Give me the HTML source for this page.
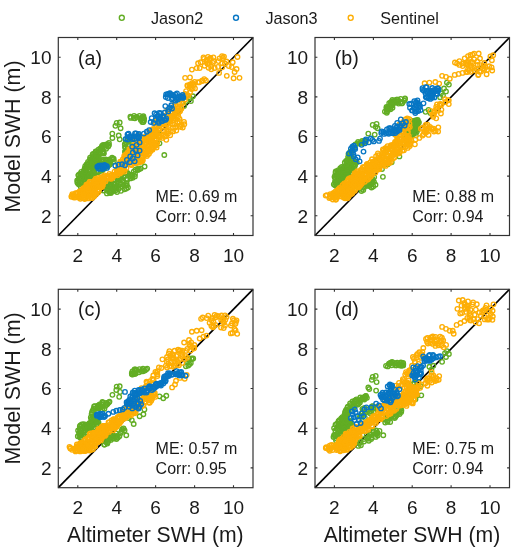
<!DOCTYPE html>
<html><head><meta charset="utf-8"><title>SWH scatter</title>
<style>
html,body{margin:0;padding:0;background:#fff}
svg{display:block}
text{font-family:"Liberation Sans",sans-serif;fill:#1a1a1a}
</style></head><body>
<svg width="515" height="550" viewBox="0 0 515 550">
<rect width="515" height="550" fill="#fff"/>
<g fill="none" stroke-width="1.35">
<circle cx="121.8" cy="17.8" r="2.5" stroke="#62AD24"/>
<circle cx="236.0" cy="17.8" r="2.5" stroke="#0776C4"/>
<circle cx="350.7" cy="17.8" r="2.5" stroke="#FDAE05"/>
</g>
<text x="151.0" y="24.2" font-size="16.2">Jason2</text>
<text x="265.4" y="24.2" font-size="16.2">Jason3</text>
<text x="380.3" y="24.2" font-size="16.2">Sentinel</text>
<g id="panel-a"><line x1="58.3" y1="235.5" x2="253.0" y2="37.5" stroke="#000" stroke-width="1.7"/>
<g fill="none" stroke-width="1.35"><g stroke="#62AD24"><circle cx="86.3" cy="177.1" r="2.25"/><circle cx="102.5" cy="159.9" r="2.25"/><circle cx="103.8" cy="148.5" r="2.25"/><circle cx="98.6" cy="168.3" r="2.25"/><circle cx="77.2" cy="180.3" r="2.25"/><circle cx="82.0" cy="178.9" r="2.25"/><circle cx="113.2" cy="159.1" r="2.25"/><circle cx="95.3" cy="152.3" r="2.25"/><circle cx="101.7" cy="147.4" r="2.25"/><circle cx="88.0" cy="161.8" r="2.25"/><circle cx="95.5" cy="164.7" r="2.25"/><circle cx="97.9" cy="172.3" r="2.25"/><circle cx="81.3" cy="171.8" r="2.25"/><circle cx="102.6" cy="169.9" r="2.25"/><circle cx="100.0" cy="153.9" r="2.25"/><circle cx="98.4" cy="152.0" r="2.25"/><circle cx="90.7" cy="170.4" r="2.25"/><circle cx="103.1" cy="144.8" r="2.25"/><circle cx="93.9" cy="160.3" r="2.25"/><circle cx="93.7" cy="176.5" r="2.25"/><circle cx="106.0" cy="163.2" r="2.25"/><circle cx="93.1" cy="153.8" r="2.25"/><circle cx="97.3" cy="155.8" r="2.25"/><circle cx="92.1" cy="168.6" r="2.25"/><circle cx="110.1" cy="164.3" r="2.25"/><circle cx="102.7" cy="152.4" r="2.25"/><circle cx="90.5" cy="165.2" r="2.25"/><circle cx="84.4" cy="181.6" r="2.25"/><circle cx="95.8" cy="160.8" r="2.25"/><circle cx="100.4" cy="169.2" r="2.25"/><circle cx="92.4" cy="156.1" r="2.25"/><circle cx="107.9" cy="144.1" r="2.25"/><circle cx="104.7" cy="145.3" r="2.25"/><circle cx="102.0" cy="146.0" r="2.25"/><circle cx="102.8" cy="153.4" r="2.25"/><circle cx="109.3" cy="164.7" r="2.25"/><circle cx="87.3" cy="173.4" r="2.25"/><circle cx="106.9" cy="165.8" r="2.25"/><circle cx="95.7" cy="153.9" r="2.25"/><circle cx="90.0" cy="159.5" r="2.25"/><circle cx="83.8" cy="179.7" r="2.25"/><circle cx="109.8" cy="163.2" r="2.25"/><circle cx="107.5" cy="166.6" r="2.25"/><circle cx="78.4" cy="175.3" r="2.25"/><circle cx="84.8" cy="174.4" r="2.25"/><circle cx="103.8" cy="153.4" r="2.25"/><circle cx="96.3" cy="163.2" r="2.25"/><circle cx="113.9" cy="161.1" r="2.25"/><circle cx="88.5" cy="170.0" r="2.25"/><circle cx="91.3" cy="177.2" r="2.25"/><circle cx="87.3" cy="179.8" r="2.25"/><circle cx="96.4" cy="159.4" r="2.25"/><circle cx="94.0" cy="174.8" r="2.25"/><circle cx="104.5" cy="168.6" r="2.25"/><circle cx="109.6" cy="159.5" r="2.25"/><circle cx="79.8" cy="178.0" r="2.25"/><circle cx="79.2" cy="179.5" r="2.25"/><circle cx="106.1" cy="148.7" r="2.25"/><circle cx="80.9" cy="173.9" r="2.25"/><circle cx="94.4" cy="162.0" r="2.25"/><circle cx="108.2" cy="146.5" r="2.25"/><circle cx="96.6" cy="171.3" r="2.25"/><circle cx="107.3" cy="160.4" r="2.25"/><circle cx="99.0" cy="163.5" r="2.25"/><circle cx="112.1" cy="157.7" r="2.25"/><circle cx="94.0" cy="157.7" r="2.25"/><circle cx="90.6" cy="161.9" r="2.25"/><circle cx="94.1" cy="172.2" r="2.25"/><circle cx="88.9" cy="176.5" r="2.25"/><circle cx="77.3" cy="182.5" r="2.25"/><circle cx="92.4" cy="166.1" r="2.25"/><circle cx="79.1" cy="177.9" r="2.25"/><circle cx="93.0" cy="172.9" r="2.25"/><circle cx="97.9" cy="162.8" r="2.25"/><circle cx="106.4" cy="145.0" r="2.25"/><circle cx="97.4" cy="166.7" r="2.25"/><circle cx="101.0" cy="170.7" r="2.25"/><circle cx="86.1" cy="176.8" r="2.25"/><circle cx="82.6" cy="183.1" r="2.25"/><circle cx="100.5" cy="164.0" r="2.25"/><circle cx="87.0" cy="166.5" r="2.25"/><circle cx="107.9" cy="160.5" r="2.25"/><circle cx="113.7" cy="158.7" r="2.25"/><circle cx="85.0" cy="172.6" r="2.25"/><circle cx="102.1" cy="148.5" r="2.25"/><circle cx="90.6" cy="170.5" r="2.25"/><circle cx="102.0" cy="170.2" r="2.25"/><circle cx="103.5" cy="159.9" r="2.25"/><circle cx="95.9" cy="155.4" r="2.25"/><circle cx="97.8" cy="156.7" r="2.25"/><circle cx="78.2" cy="183.8" r="2.25"/><circle cx="84.7" cy="177.0" r="2.25"/><circle cx="80.6" cy="179.1" r="2.25"/><circle cx="88.4" cy="163.8" r="2.25"/><circle cx="84.0" cy="170.4" r="2.25"/><circle cx="98.0" cy="160.5" r="2.25"/><circle cx="88.5" cy="167.7" r="2.25"/><circle cx="103.8" cy="164.3" r="2.25"/><circle cx="82.4" cy="175.3" r="2.25"/><circle cx="109.7" cy="161.7" r="2.25"/><circle cx="107.9" cy="162.1" r="2.25"/><circle cx="90.7" cy="162.6" r="2.25"/><circle cx="80.9" cy="177.2" r="2.25"/><circle cx="112.8" cy="159.0" r="2.25"/><circle cx="103.5" cy="161.8" r="2.25"/><circle cx="91.1" cy="159.7" r="2.25"/><circle cx="92.2" cy="175.4" r="2.25"/><circle cx="101.0" cy="149.9" r="2.25"/><circle cx="93.1" cy="165.4" r="2.25"/><circle cx="97.0" cy="158.5" r="2.25"/><circle cx="84.7" cy="168.3" r="2.25"/><circle cx="98.3" cy="153.8" r="2.25"/><circle cx="81.9" cy="182.1" r="2.25"/><circle cx="88.4" cy="174.9" r="2.25"/><circle cx="85.9" cy="169.2" r="2.25"/><circle cx="84.5" cy="180.2" r="2.25"/><circle cx="93.0" cy="172.7" r="2.25"/><circle cx="84.3" cy="182.0" r="2.25"/><circle cx="99.3" cy="168.2" r="2.25"/><circle cx="101.5" cy="161.0" r="2.25"/><circle cx="101.2" cy="165.4" r="2.25"/><circle cx="106.3" cy="144.4" r="2.25"/><circle cx="108.9" cy="163.2" r="2.25"/><circle cx="86.5" cy="164.3" r="2.25"/><circle cx="98.9" cy="158.5" r="2.25"/><circle cx="77.9" cy="181.0" r="2.25"/><circle cx="107.9" cy="165.7" r="2.25"/><circle cx="88.3" cy="175.4" r="2.25"/><circle cx="90.4" cy="167.3" r="2.25"/><circle cx="101.1" cy="167.3" r="2.25"/><circle cx="92.6" cy="154.6" r="2.25"/><circle cx="94.6" cy="164.8" r="2.25"/><circle cx="94.8" cy="155.5" r="2.25"/><circle cx="79.9" cy="182.7" r="2.25"/><circle cx="98.5" cy="172.1" r="2.25"/><circle cx="78.6" cy="174.8" r="2.25"/><circle cx="90.1" cy="157.6" r="2.25"/><circle cx="103.6" cy="153.0" r="2.25"/><circle cx="84.8" cy="174.4" r="2.25"/><circle cx="93.6" cy="160.5" r="2.25"/><circle cx="105.8" cy="159.5" r="2.25"/><circle cx="94.7" cy="168.6" r="2.25"/><circle cx="94.4" cy="157.0" r="2.25"/><circle cx="100.2" cy="162.8" r="2.25"/><circle cx="87.7" cy="165.1" r="2.25"/><circle cx="84.2" cy="171.9" r="2.25"/><circle cx="79.2" cy="184.6" r="2.25"/><circle cx="96.1" cy="154.1" r="2.25"/><circle cx="80.0" cy="173.8" r="2.25"/><circle cx="101.9" cy="168.6" r="2.25"/><circle cx="82.1" cy="174.1" r="2.25"/><circle cx="87.6" cy="178.6" r="2.25"/><circle cx="97.2" cy="160.3" r="2.25"/><circle cx="102.9" cy="151.6" r="2.25"/><circle cx="94.3" cy="172.0" r="2.25"/><circle cx="100.9" cy="169.1" r="2.25"/><circle cx="93.9" cy="161.2" r="2.25"/><circle cx="106.2" cy="163.6" r="2.25"/><circle cx="98.1" cy="171.0" r="2.25"/><circle cx="80.1" cy="179.4" r="2.25"/><circle cx="98.4" cy="164.1" r="2.25"/><circle cx="93.9" cy="174.7" r="2.25"/><circle cx="95.8" cy="151.6" r="2.25"/><circle cx="89.5" cy="177.1" r="2.25"/><circle cx="96.0" cy="167.7" r="2.25"/><circle cx="80.8" cy="186.9" r="2.25"/><circle cx="103.6" cy="166.5" r="2.25"/><circle cx="93.6" cy="163.1" r="2.25"/><circle cx="100.1" cy="148.7" r="2.25"/><circle cx="101.0" cy="148.5" r="2.25"/><circle cx="81.3" cy="177.4" r="2.25"/><circle cx="104.3" cy="145.3" r="2.25"/><circle cx="101.4" cy="170.1" r="2.25"/><circle cx="105.2" cy="166.8" r="2.25"/><circle cx="90.1" cy="178.6" r="2.25"/><circle cx="90.5" cy="170.1" r="2.25"/><circle cx="98.4" cy="149.6" r="2.25"/><circle cx="92.3" cy="160.2" r="2.25"/><circle cx="89.6" cy="174.9" r="2.25"/><circle cx="94.1" cy="167.9" r="2.25"/><circle cx="104.0" cy="163.3" r="2.25"/><circle cx="86.0" cy="169.4" r="2.25"/><circle cx="85.2" cy="166.1" r="2.25"/><circle cx="88.4" cy="163.6" r="2.25"/><circle cx="84.6" cy="171.2" r="2.25"/><circle cx="102.1" cy="152.8" r="2.25"/><circle cx="107.4" cy="160.2" r="2.25"/><circle cx="101.3" cy="149.1" r="2.25"/><circle cx="95.8" cy="151.5" r="2.25"/><circle cx="95.8" cy="158.8" r="2.25"/><circle cx="109.0" cy="145.1" r="2.25"/><circle cx="107.3" cy="190.7" r="2.25"/><circle cx="127.9" cy="187.4" r="2.25"/><circle cx="133.7" cy="171.6" r="2.25"/><circle cx="120.1" cy="176.8" r="2.25"/><circle cx="113.8" cy="183.7" r="2.25"/><circle cx="135.0" cy="173.9" r="2.25"/><circle cx="126.7" cy="172.9" r="2.25"/><circle cx="107.3" cy="184.4" r="2.25"/><circle cx="116.7" cy="185.9" r="2.25"/><circle cx="110.3" cy="192.7" r="2.25"/><circle cx="111.4" cy="190.3" r="2.25"/><circle cx="137.4" cy="168.9" r="2.25"/><circle cx="117.7" cy="178.8" r="2.25"/><circle cx="122.1" cy="186.6" r="2.25"/><circle cx="137.8" cy="170.1" r="2.25"/><circle cx="113.4" cy="190.8" r="2.25"/><circle cx="120.1" cy="183.9" r="2.25"/><circle cx="120.0" cy="179.0" r="2.25"/><circle cx="131.9" cy="176.0" r="2.25"/><circle cx="140.7" cy="168.5" r="2.25"/><circle cx="122.7" cy="180.8" r="2.25"/><circle cx="126.6" cy="179.0" r="2.25"/><circle cx="130.3" cy="178.4" r="2.25"/><circle cx="113.2" cy="189.3" r="2.25"/><circle cx="108.4" cy="186.9" r="2.25"/><circle cx="103.3" cy="190.5" r="2.25"/><circle cx="139.0" cy="169.2" r="2.25"/><circle cx="108.3" cy="189.1" r="2.25"/><circle cx="117.2" cy="181.7" r="2.25"/><circle cx="109.6" cy="192.6" r="2.25"/><circle cx="106.9" cy="193.4" r="2.25"/><circle cx="109.8" cy="190.8" r="2.25"/><circle cx="124.5" cy="189.3" r="2.25"/><circle cx="111.7" cy="182.4" r="2.25"/><circle cx="110.4" cy="186.4" r="2.25"/><circle cx="132.7" cy="177.7" r="2.25"/><circle cx="134.9" cy="176.4" r="2.25"/><circle cx="106.6" cy="188.6" r="2.25"/><circle cx="135.4" cy="169.7" r="2.25"/><circle cx="121.5" cy="179.1" r="2.25"/><circle cx="115.3" cy="190.7" r="2.25"/><circle cx="110.9" cy="192.9" r="2.25"/><circle cx="116.3" cy="188.5" r="2.25"/><circle cx="118.6" cy="188.9" r="2.25"/><circle cx="105.2" cy="186.2" r="2.25"/><circle cx="132.6" cy="174.9" r="2.25"/><circle cx="130.1" cy="175.9" r="2.25"/><circle cx="118.2" cy="179.6" r="2.25"/><circle cx="109.5" cy="185.8" r="2.25"/><circle cx="110.1" cy="182.0" r="2.25"/><circle cx="122.2" cy="184.1" r="2.25"/><circle cx="115.0" cy="188.5" r="2.25"/><circle cx="126.8" cy="185.3" r="2.25"/><circle cx="123.6" cy="185.3" r="2.25"/><circle cx="121.2" cy="175.5" r="2.25"/><circle cx="111.3" cy="185.0" r="2.25"/><circle cx="123.6" cy="177.2" r="2.25"/><circle cx="131.0" cy="174.6" r="2.25"/><circle cx="115.3" cy="179.9" r="2.25"/><circle cx="144.6" cy="166.5" r="2.25"/><circle cx="127.5" cy="172.8" r="2.25"/><circle cx="127.3" cy="179.7" r="2.25"/><circle cx="118.1" cy="185.8" r="2.25"/><circle cx="126.6" cy="183.2" r="2.25"/><circle cx="117.0" cy="192.1" r="2.25"/><circle cx="115.6" cy="186.9" r="2.25"/><circle cx="111.6" cy="191.8" r="2.25"/><circle cx="109.0" cy="183.0" r="2.25"/><circle cx="125.5" cy="172.9" r="2.25"/><circle cx="121.0" cy="190.8" r="2.25"/><circle cx="115.2" cy="184.0" r="2.25"/><circle cx="125.0" cy="184.8" r="2.25"/><circle cx="125.0" cy="147.2" r="2.25"/><circle cx="125.7" cy="155.9" r="2.25"/><circle cx="125.5" cy="139.6" r="2.25"/><circle cx="130.2" cy="139.2" r="2.25"/><circle cx="129.5" cy="144.5" r="2.25"/><circle cx="128.9" cy="149.7" r="2.25"/><circle cx="128.2" cy="141.9" r="2.25"/><circle cx="127.5" cy="140.5" r="2.25"/><circle cx="128.3" cy="153.6" r="2.25"/><circle cx="125.7" cy="142.6" r="2.25"/><circle cx="125.3" cy="151.1" r="2.25"/><circle cx="126.6" cy="151.6" r="2.25"/><circle cx="128.2" cy="144.9" r="2.25"/><circle cx="125.0" cy="152.0" r="2.25"/><circle cx="127.4" cy="148.3" r="2.25"/><circle cx="126.4" cy="142.2" r="2.25"/><circle cx="128.1" cy="150.8" r="2.25"/><circle cx="125.4" cy="147.1" r="2.25"/><circle cx="124.8" cy="144.2" r="2.25"/><circle cx="112.4" cy="138.0" r="2.25"/><circle cx="119.7" cy="139.3" r="2.25"/><circle cx="108.9" cy="142.8" r="2.25"/><circle cx="126.3" cy="188.5" r="2.25"/><circle cx="143.1" cy="118.0" r="2.25"/><circle cx="140.9" cy="118.5" r="2.25"/><circle cx="143.2" cy="117.4" r="2.25"/><circle cx="142.3" cy="122.0" r="2.25"/><circle cx="130.8" cy="117.9" r="2.25"/><circle cx="140.8" cy="120.1" r="2.25"/><circle cx="134.1" cy="115.8" r="2.25"/><circle cx="136.6" cy="116.9" r="2.25"/><circle cx="133.8" cy="118.0" r="2.25"/><circle cx="143.4" cy="122.1" r="2.25"/><circle cx="141.5" cy="118.4" r="2.25"/><circle cx="134.9" cy="118.3" r="2.25"/><circle cx="140.4" cy="118.4" r="2.25"/><circle cx="144.1" cy="118.6" r="2.25"/><circle cx="144.0" cy="120.4" r="2.25"/><circle cx="143.4" cy="116.2" r="2.25"/><circle cx="130.4" cy="116.7" r="2.25"/><circle cx="141.8" cy="117.6" r="2.25"/><circle cx="139.5" cy="115.9" r="2.25"/><circle cx="116.7" cy="122.9" r="2.25"/><circle cx="119.7" cy="122.5" r="2.25"/><circle cx="115.4" cy="125.8" r="2.25"/><circle cx="120.6" cy="128.2" r="2.25"/><circle cx="112.3" cy="133.6" r="2.25"/><circle cx="118.7" cy="135.5" r="2.25"/><circle cx="164.3" cy="155.0" r="2.25"/><circle cx="159.5" cy="143.3" r="2.25"/><circle cx="186.1" cy="101.1" r="2.25"/><circle cx="190.0" cy="98.2" r="2.25"/><circle cx="192.9" cy="96.2" r="2.25"/><circle cx="184.1" cy="105.9" r="2.25"/><circle cx="190.9" cy="101.1" r="2.25"/><circle cx="176.4" cy="112.7" r="2.25"/><circle cx="158.9" cy="130.2" r="2.25"/><circle cx="156.0" cy="134.1" r="2.25"/><circle cx="173.4" cy="116.6" r="2.25"/></g>
<g stroke="#FDAE05"><circle cx="81.0" cy="196.4" r="2.25"/><circle cx="92.5" cy="194.8" r="2.25"/><circle cx="114.3" cy="174.8" r="2.25"/><circle cx="96.8" cy="181.9" r="2.25"/><circle cx="106.7" cy="178.2" r="2.25"/><circle cx="72.3" cy="194.1" r="2.25"/><circle cx="85.2" cy="187.2" r="2.25"/><circle cx="98.7" cy="189.5" r="2.25"/><circle cx="86.8" cy="186.6" r="2.25"/><circle cx="73.2" cy="195.5" r="2.25"/><circle cx="75.9" cy="197.2" r="2.25"/><circle cx="88.9" cy="189.4" r="2.25"/><circle cx="92.2" cy="198.1" r="2.25"/><circle cx="101.8" cy="186.8" r="2.25"/><circle cx="88.7" cy="184.0" r="2.25"/><circle cx="84.8" cy="194.1" r="2.25"/><circle cx="120.7" cy="171.7" r="2.25"/><circle cx="96.4" cy="185.7" r="2.25"/><circle cx="86.4" cy="184.7" r="2.25"/><circle cx="102.6" cy="182.9" r="2.25"/><circle cx="94.8" cy="195.2" r="2.25"/><circle cx="92.8" cy="186.4" r="2.25"/><circle cx="71.7" cy="196.1" r="2.25"/><circle cx="116.4" cy="173.0" r="2.25"/><circle cx="90.3" cy="186.7" r="2.25"/><circle cx="112.7" cy="177.4" r="2.25"/><circle cx="100.7" cy="187.5" r="2.25"/><circle cx="89.7" cy="181.8" r="2.25"/><circle cx="87.6" cy="191.7" r="2.25"/><circle cx="89.6" cy="194.6" r="2.25"/><circle cx="117.5" cy="175.2" r="2.25"/><circle cx="93.2" cy="190.5" r="2.25"/><circle cx="105.3" cy="181.2" r="2.25"/><circle cx="117.2" cy="171.6" r="2.25"/><circle cx="98.4" cy="186.6" r="2.25"/><circle cx="80.1" cy="193.8" r="2.25"/><circle cx="86.5" cy="191.7" r="2.25"/><circle cx="87.4" cy="198.0" r="2.25"/><circle cx="80.1" cy="197.4" r="2.25"/><circle cx="94.6" cy="180.3" r="2.25"/><circle cx="99.9" cy="179.6" r="2.25"/><circle cx="99.1" cy="185.4" r="2.25"/><circle cx="101.6" cy="181.6" r="2.25"/><circle cx="91.7" cy="197.7" r="2.25"/><circle cx="103.3" cy="179.8" r="2.25"/><circle cx="120.1" cy="173.4" r="2.25"/><circle cx="87.1" cy="196.0" r="2.25"/><circle cx="89.0" cy="187.2" r="2.25"/><circle cx="78.0" cy="192.9" r="2.25"/><circle cx="92.7" cy="183.6" r="2.25"/><circle cx="109.4" cy="173.8" r="2.25"/><circle cx="101.2" cy="177.2" r="2.25"/><circle cx="96.7" cy="179.7" r="2.25"/><circle cx="72.8" cy="195.2" r="2.25"/><circle cx="80.3" cy="198.7" r="2.25"/><circle cx="106.9" cy="177.1" r="2.25"/><circle cx="99.1" cy="180.9" r="2.25"/><circle cx="87.2" cy="189.6" r="2.25"/><circle cx="95.2" cy="186.7" r="2.25"/><circle cx="118.7" cy="169.9" r="2.25"/><circle cx="84.7" cy="199.0" r="2.25"/><circle cx="90.7" cy="191.4" r="2.25"/><circle cx="95.3" cy="182.6" r="2.25"/><circle cx="111.2" cy="178.4" r="2.25"/><circle cx="83.1" cy="188.7" r="2.25"/><circle cx="82.3" cy="190.5" r="2.25"/><circle cx="104.5" cy="176.9" r="2.25"/><circle cx="79.9" cy="194.7" r="2.25"/><circle cx="78.1" cy="196.1" r="2.25"/><circle cx="107.9" cy="175.9" r="2.25"/><circle cx="75.6" cy="193.2" r="2.25"/><circle cx="79.5" cy="191.6" r="2.25"/><circle cx="111.1" cy="175.1" r="2.25"/><circle cx="85.0" cy="191.7" r="2.25"/><circle cx="81.8" cy="197.3" r="2.25"/><circle cx="85.0" cy="195.8" r="2.25"/><circle cx="83.4" cy="188.2" r="2.25"/><circle cx="91.0" cy="193.4" r="2.25"/><circle cx="100.5" cy="184.0" r="2.25"/><circle cx="108.5" cy="176.9" r="2.25"/><circle cx="96.1" cy="181.1" r="2.25"/><circle cx="94.4" cy="195.4" r="2.25"/><circle cx="113.8" cy="175.6" r="2.25"/><circle cx="98.5" cy="191.9" r="2.25"/><circle cx="95.7" cy="178.6" r="2.25"/><circle cx="114.5" cy="171.6" r="2.25"/><circle cx="92.3" cy="187.5" r="2.25"/><circle cx="85.0" cy="190.2" r="2.25"/><circle cx="117.4" cy="171.3" r="2.25"/><circle cx="112.3" cy="177.4" r="2.25"/><circle cx="86.2" cy="189.2" r="2.25"/><circle cx="94.9" cy="184.6" r="2.25"/><circle cx="102.8" cy="185.7" r="2.25"/><circle cx="89.8" cy="182.0" r="2.25"/><circle cx="97.7" cy="189.7" r="2.25"/><circle cx="74.0" cy="197.5" r="2.25"/><circle cx="100.4" cy="180.2" r="2.25"/><circle cx="97.8" cy="181.4" r="2.25"/><circle cx="76.8" cy="193.5" r="2.25"/><circle cx="94.3" cy="182.3" r="2.25"/><circle cx="71.4" cy="196.7" r="2.25"/><circle cx="88.2" cy="192.8" r="2.25"/><circle cx="108.0" cy="178.4" r="2.25"/><circle cx="99.9" cy="179.6" r="2.25"/><circle cx="98.5" cy="181.8" r="2.25"/><circle cx="85.7" cy="197.7" r="2.25"/><circle cx="89.3" cy="189.2" r="2.25"/><circle cx="73.9" cy="196.0" r="2.25"/><circle cx="103.3" cy="182.1" r="2.25"/><circle cx="80.5" cy="193.1" r="2.25"/><circle cx="88.6" cy="198.4" r="2.25"/><circle cx="75.1" cy="197.3" r="2.25"/><circle cx="84.0" cy="198.0" r="2.25"/><circle cx="90.2" cy="190.3" r="2.25"/><circle cx="120.8" cy="172.6" r="2.25"/><circle cx="118.7" cy="172.3" r="2.25"/><circle cx="95.0" cy="188.3" r="2.25"/><circle cx="93.4" cy="186.4" r="2.25"/><circle cx="92.4" cy="185.2" r="2.25"/><circle cx="98.8" cy="183.9" r="2.25"/><circle cx="99.2" cy="182.5" r="2.25"/><circle cx="98.3" cy="178.0" r="2.25"/><circle cx="112.8" cy="176.7" r="2.25"/><circle cx="101.3" cy="177.8" r="2.25"/><circle cx="90.7" cy="195.3" r="2.25"/><circle cx="97.0" cy="186.3" r="2.25"/><circle cx="117.4" cy="169.2" r="2.25"/><circle cx="82.5" cy="189.9" r="2.25"/><circle cx="105.5" cy="181.3" r="2.25"/><circle cx="89.9" cy="184.5" r="2.25"/><circle cx="90.8" cy="193.7" r="2.25"/><circle cx="87.7" cy="184.2" r="2.25"/><circle cx="115.0" cy="174.8" r="2.25"/><circle cx="98.7" cy="190.3" r="2.25"/><circle cx="93.9" cy="196.6" r="2.25"/><circle cx="89.4" cy="196.6" r="2.25"/><circle cx="121.5" cy="171.9" r="2.25"/><circle cx="97.2" cy="180.5" r="2.25"/><circle cx="104.5" cy="175.4" r="2.25"/><circle cx="78.4" cy="195.9" r="2.25"/><circle cx="111.1" cy="178.8" r="2.25"/><circle cx="101.8" cy="187.1" r="2.25"/><circle cx="82.1" cy="196.7" r="2.25"/><circle cx="89.2" cy="186.0" r="2.25"/><circle cx="91.7" cy="182.1" r="2.25"/><circle cx="86.0" cy="193.1" r="2.25"/><circle cx="91.5" cy="190.4" r="2.25"/><circle cx="100.9" cy="184.4" r="2.25"/><circle cx="89.5" cy="187.5" r="2.25"/><circle cx="106.9" cy="177.6" r="2.25"/><circle cx="116.6" cy="174.0" r="2.25"/><circle cx="91.2" cy="186.7" r="2.25"/><circle cx="96.6" cy="193.8" r="2.25"/><circle cx="82.3" cy="191.3" r="2.25"/><circle cx="95.2" cy="193.2" r="2.25"/><circle cx="78.3" cy="197.5" r="2.25"/><circle cx="112.2" cy="174.6" r="2.25"/><circle cx="87.2" cy="187.0" r="2.25"/><circle cx="100.1" cy="187.3" r="2.25"/><circle cx="77.5" cy="193.3" r="2.25"/><circle cx="88.3" cy="189.5" r="2.25"/><circle cx="96.3" cy="183.7" r="2.25"/><circle cx="83.2" cy="194.4" r="2.25"/><circle cx="79.7" cy="191.3" r="2.25"/><circle cx="86.8" cy="188.0" r="2.25"/><circle cx="95.8" cy="187.1" r="2.25"/><circle cx="94.1" cy="182.5" r="2.25"/><circle cx="103.4" cy="182.9" r="2.25"/><circle cx="94.6" cy="191.4" r="2.25"/><circle cx="103.5" cy="177.0" r="2.25"/><circle cx="156.4" cy="138.9" r="2.25"/><circle cx="127.0" cy="153.9" r="2.25"/><circle cx="146.9" cy="156.0" r="2.25"/><circle cx="139.7" cy="138.1" r="2.25"/><circle cx="135.2" cy="158.3" r="2.25"/><circle cx="151.4" cy="137.6" r="2.25"/><circle cx="119.1" cy="170.2" r="2.25"/><circle cx="140.2" cy="142.3" r="2.25"/><circle cx="149.3" cy="149.2" r="2.25"/><circle cx="158.1" cy="135.4" r="2.25"/><circle cx="124.3" cy="166.8" r="2.25"/><circle cx="128.3" cy="163.5" r="2.25"/><circle cx="147.1" cy="138.5" r="2.25"/><circle cx="133.6" cy="161.8" r="2.25"/><circle cx="147.1" cy="136.2" r="2.25"/><circle cx="152.5" cy="144.8" r="2.25"/><circle cx="134.0" cy="145.1" r="2.25"/><circle cx="148.1" cy="142.7" r="2.25"/><circle cx="142.1" cy="141.6" r="2.25"/><circle cx="144.6" cy="140.1" r="2.25"/><circle cx="151.4" cy="149.4" r="2.25"/><circle cx="143.3" cy="146.4" r="2.25"/><circle cx="140.3" cy="148.2" r="2.25"/><circle cx="150.6" cy="138.7" r="2.25"/><circle cx="150.9" cy="141.0" r="2.25"/><circle cx="131.5" cy="164.8" r="2.25"/><circle cx="136.9" cy="142.1" r="2.25"/><circle cx="137.8" cy="153.4" r="2.25"/><circle cx="154.9" cy="142.5" r="2.25"/><circle cx="137.8" cy="158.0" r="2.25"/><circle cx="139.5" cy="135.7" r="2.25"/><circle cx="136.1" cy="163.0" r="2.25"/><circle cx="155.2" cy="145.1" r="2.25"/><circle cx="133.0" cy="157.4" r="2.25"/><circle cx="130.4" cy="158.3" r="2.25"/><circle cx="136.9" cy="156.7" r="2.25"/><circle cx="147.8" cy="154.4" r="2.25"/><circle cx="129.7" cy="150.9" r="2.25"/><circle cx="122.8" cy="161.5" r="2.25"/><circle cx="131.1" cy="152.1" r="2.25"/><circle cx="120.4" cy="163.2" r="2.25"/><circle cx="155.5" cy="136.0" r="2.25"/><circle cx="145.5" cy="154.3" r="2.25"/><circle cx="128.3" cy="160.4" r="2.25"/><circle cx="145.2" cy="150.0" r="2.25"/><circle cx="147.6" cy="140.9" r="2.25"/><circle cx="122.1" cy="170.2" r="2.25"/><circle cx="135.5" cy="139.4" r="2.25"/><circle cx="148.7" cy="137.3" r="2.25"/><circle cx="127.7" cy="159.0" r="2.25"/><circle cx="127.8" cy="156.9" r="2.25"/><circle cx="135.9" cy="148.8" r="2.25"/><circle cx="133.5" cy="151.3" r="2.25"/><circle cx="143.1" cy="156.4" r="2.25"/><circle cx="118.0" cy="169.9" r="2.25"/><circle cx="156.7" cy="144.7" r="2.25"/><circle cx="118.6" cy="166.3" r="2.25"/><circle cx="124.8" cy="157.4" r="2.25"/><circle cx="133.9" cy="163.3" r="2.25"/><circle cx="143.8" cy="153.9" r="2.25"/><circle cx="137.9" cy="146.3" r="2.25"/><circle cx="144.7" cy="143.3" r="2.25"/><circle cx="133.0" cy="147.7" r="2.25"/><circle cx="120.2" cy="161.6" r="2.25"/><circle cx="133.3" cy="153.3" r="2.25"/><circle cx="139.1" cy="149.9" r="2.25"/><circle cx="136.4" cy="157.7" r="2.25"/><circle cx="144.7" cy="147.6" r="2.25"/><circle cx="117.1" cy="169.5" r="2.25"/><circle cx="140.8" cy="141.2" r="2.25"/><circle cx="141.2" cy="157.3" r="2.25"/><circle cx="134.3" cy="160.9" r="2.25"/><circle cx="154.7" cy="139.2" r="2.25"/><circle cx="152.8" cy="147.0" r="2.25"/><circle cx="140.4" cy="160.8" r="2.25"/><circle cx="124.3" cy="169.7" r="2.25"/><circle cx="151.9" cy="143.3" r="2.25"/><circle cx="132.9" cy="160.0" r="2.25"/><circle cx="142.6" cy="152.3" r="2.25"/><circle cx="134.3" cy="154.0" r="2.25"/><circle cx="124.5" cy="171.6" r="2.25"/><circle cx="137.4" cy="162.3" r="2.25"/><circle cx="150.3" cy="151.4" r="2.25"/><circle cx="125.0" cy="159.6" r="2.25"/><circle cx="143.6" cy="149.5" r="2.25"/><circle cx="148.5" cy="150.4" r="2.25"/><circle cx="136.9" cy="136.6" r="2.25"/><circle cx="146.8" cy="139.6" r="2.25"/><circle cx="121.4" cy="167.3" r="2.25"/><circle cx="140.2" cy="142.3" r="2.25"/><circle cx="136.1" cy="142.3" r="2.25"/><circle cx="127.4" cy="152.6" r="2.25"/><circle cx="122.6" cy="167.4" r="2.25"/><circle cx="149.8" cy="140.8" r="2.25"/><circle cx="119.2" cy="164.3" r="2.25"/><circle cx="151.6" cy="135.4" r="2.25"/><circle cx="130.8" cy="154.6" r="2.25"/><circle cx="152.5" cy="149.7" r="2.25"/><circle cx="130.6" cy="164.3" r="2.25"/><circle cx="138.5" cy="142.4" r="2.25"/><circle cx="142.5" cy="160.5" r="2.25"/><circle cx="156.6" cy="147.5" r="2.25"/><circle cx="142.9" cy="141.7" r="2.25"/><circle cx="140.6" cy="152.3" r="2.25"/><circle cx="120.5" cy="162.8" r="2.25"/><circle cx="130.9" cy="148.6" r="2.25"/><circle cx="157.4" cy="142.3" r="2.25"/><circle cx="132.7" cy="146.1" r="2.25"/><circle cx="147.9" cy="146.6" r="2.25"/><circle cx="143.5" cy="138.1" r="2.25"/><circle cx="138.0" cy="162.7" r="2.25"/><circle cx="141.5" cy="161.5" r="2.25"/><circle cx="141.6" cy="145.4" r="2.25"/><circle cx="155.1" cy="146.1" r="2.25"/><circle cx="149.1" cy="139.2" r="2.25"/><circle cx="130.7" cy="151.2" r="2.25"/><circle cx="134.8" cy="143.9" r="2.25"/><circle cx="136.3" cy="146.0" r="2.25"/><circle cx="134.3" cy="158.3" r="2.25"/><circle cx="122.9" cy="159.1" r="2.25"/><circle cx="129.4" cy="158.4" r="2.25"/><circle cx="120.6" cy="169.4" r="2.25"/><circle cx="125.4" cy="154.6" r="2.25"/><circle cx="134.3" cy="145.6" r="2.25"/><circle cx="143.9" cy="138.2" r="2.25"/><circle cx="140.1" cy="162.1" r="2.25"/><circle cx="142.7" cy="159.3" r="2.25"/><circle cx="150.5" cy="140.0" r="2.25"/><circle cx="132.0" cy="151.2" r="2.25"/><circle cx="146.2" cy="152.7" r="2.25"/><circle cx="152.4" cy="137.7" r="2.25"/><circle cx="143.0" cy="145.5" r="2.25"/><circle cx="124.2" cy="156.0" r="2.25"/><circle cx="123.6" cy="165.3" r="2.25"/><circle cx="145.4" cy="154.7" r="2.25"/><circle cx="149.3" cy="148.3" r="2.25"/><circle cx="137.2" cy="151.0" r="2.25"/><circle cx="133.1" cy="162.7" r="2.25"/><circle cx="135.7" cy="152.6" r="2.25"/><circle cx="125.2" cy="162.6" r="2.25"/><circle cx="129.4" cy="149.2" r="2.25"/><circle cx="159.8" cy="137.5" r="2.25"/><circle cx="136.5" cy="139.8" r="2.25"/><circle cx="134.5" cy="161.9" r="2.25"/><circle cx="152.9" cy="142.5" r="2.25"/><circle cx="152.2" cy="139.3" r="2.25"/><circle cx="141.4" cy="148.0" r="2.25"/><circle cx="137.0" cy="136.5" r="2.25"/><circle cx="136.6" cy="152.4" r="2.25"/><circle cx="149.8" cy="137.8" r="2.25"/><circle cx="128.1" cy="154.2" r="2.25"/><circle cx="138.7" cy="145.3" r="2.25"/><circle cx="141.1" cy="139.9" r="2.25"/><circle cx="151.5" cy="147.1" r="2.25"/><circle cx="121.9" cy="171.3" r="2.25"/><circle cx="135.0" cy="148.3" r="2.25"/><circle cx="130.9" cy="160.0" r="2.25"/><circle cx="124.0" cy="168.3" r="2.25"/><circle cx="139.0" cy="158.2" r="2.25"/><circle cx="128.7" cy="156.8" r="2.25"/><circle cx="156.0" cy="136.1" r="2.25"/><circle cx="122.9" cy="160.8" r="2.25"/><circle cx="126.5" cy="168.1" r="2.25"/><circle cx="151.7" cy="141.1" r="2.25"/><circle cx="146.0" cy="143.8" r="2.25"/><circle cx="117.6" cy="168.6" r="2.25"/><circle cx="156.4" cy="143.6" r="2.25"/><circle cx="122.4" cy="168.9" r="2.25"/><circle cx="138.4" cy="148.3" r="2.25"/><circle cx="149.0" cy="153.8" r="2.25"/><circle cx="141.4" cy="152.7" r="2.25"/><circle cx="142.5" cy="160.7" r="2.25"/><circle cx="131.6" cy="165.1" r="2.25"/><circle cx="141.5" cy="151.1" r="2.25"/><circle cx="136.0" cy="138.3" r="2.25"/><circle cx="139.2" cy="160.9" r="2.25"/><circle cx="118.4" cy="165.4" r="2.25"/><circle cx="139.3" cy="135.8" r="2.25"/><circle cx="129.5" cy="160.9" r="2.25"/><circle cx="148.9" cy="136.0" r="2.25"/><circle cx="155.1" cy="145.8" r="2.25"/><circle cx="153.4" cy="145.1" r="2.25"/><circle cx="145.5" cy="138.9" r="2.25"/><circle cx="153.3" cy="128.8" r="2.25"/><circle cx="152.5" cy="135.4" r="2.25"/><circle cx="149.8" cy="132.0" r="2.25"/><circle cx="153.1" cy="132.9" r="2.25"/><circle cx="149.8" cy="135.6" r="2.25"/><circle cx="154.9" cy="131.3" r="2.25"/><circle cx="145.4" cy="136.3" r="2.25"/><circle cx="151.4" cy="131.7" r="2.25"/><circle cx="151.8" cy="129.9" r="2.25"/><circle cx="151.2" cy="135.9" r="2.25"/><circle cx="153.5" cy="135.6" r="2.25"/><circle cx="162.4" cy="137.9" r="2.25"/><circle cx="166.3" cy="139.8" r="2.25"/><circle cx="166.6" cy="124.6" r="2.25"/><circle cx="175.4" cy="104.9" r="2.25"/><circle cx="172.9" cy="127.4" r="2.25"/><circle cx="189.5" cy="86.1" r="2.25"/><circle cx="166.3" cy="115.4" r="2.25"/><circle cx="163.3" cy="130.4" r="2.25"/><circle cx="167.4" cy="110.2" r="2.25"/><circle cx="188.3" cy="95.4" r="2.25"/><circle cx="174.7" cy="114.2" r="2.25"/><circle cx="173.6" cy="119.8" r="2.25"/><circle cx="184.0" cy="121.8" r="2.25"/><circle cx="190.0" cy="92.5" r="2.25"/><circle cx="170.9" cy="112.9" r="2.25"/><circle cx="179.8" cy="125.8" r="2.25"/><circle cx="183.2" cy="97.7" r="2.25"/><circle cx="157.0" cy="120.2" r="2.25"/><circle cx="179.6" cy="121.9" r="2.25"/><circle cx="161.7" cy="124.0" r="2.25"/><circle cx="170.0" cy="121.7" r="2.25"/><circle cx="178.1" cy="108.0" r="2.25"/><circle cx="169.3" cy="117.6" r="2.25"/><circle cx="180.0" cy="111.2" r="2.25"/><circle cx="159.4" cy="135.5" r="2.25"/><circle cx="181.2" cy="103.3" r="2.25"/><circle cx="167.3" cy="120.3" r="2.25"/><circle cx="183.1" cy="102.9" r="2.25"/><circle cx="170.4" cy="119.7" r="2.25"/><circle cx="166.2" cy="130.9" r="2.25"/><circle cx="182.8" cy="127.6" r="2.25"/><circle cx="184.3" cy="124.2" r="2.25"/><circle cx="186.1" cy="91.1" r="2.25"/><circle cx="154.6" cy="134.1" r="2.25"/><circle cx="168.3" cy="114.6" r="2.25"/><circle cx="155.4" cy="122.7" r="2.25"/><circle cx="178.3" cy="116.5" r="2.25"/><circle cx="178.3" cy="98.9" r="2.25"/><circle cx="164.0" cy="123.8" r="2.25"/><circle cx="175.0" cy="102.3" r="2.25"/><circle cx="175.2" cy="127.5" r="2.25"/><circle cx="167.0" cy="117.4" r="2.25"/><circle cx="155.9" cy="124.8" r="2.25"/><circle cx="179.6" cy="118.9" r="2.25"/><circle cx="175.7" cy="119.1" r="2.25"/><circle cx="158.6" cy="129.0" r="2.25"/><circle cx="159.7" cy="133.2" r="2.25"/><circle cx="175.8" cy="116.8" r="2.25"/><circle cx="168.1" cy="133.4" r="2.25"/><circle cx="175.0" cy="111.8" r="2.25"/><circle cx="176.0" cy="108.4" r="2.25"/><circle cx="155.1" cy="131.0" r="2.25"/><circle cx="176.3" cy="130.5" r="2.25"/><circle cx="159.7" cy="117.8" r="2.25"/><circle cx="158.3" cy="124.6" r="2.25"/><circle cx="186.8" cy="96.6" r="2.25"/><circle cx="168.2" cy="126.0" r="2.25"/><circle cx="163.1" cy="135.2" r="2.25"/><circle cx="177.0" cy="110.7" r="2.25"/><circle cx="163.5" cy="117.5" r="2.25"/><circle cx="173.1" cy="131.4" r="2.25"/><circle cx="159.5" cy="126.6" r="2.25"/><circle cx="159.7" cy="136.3" r="2.25"/><circle cx="195.0" cy="88.4" r="2.25"/><circle cx="181.6" cy="97.7" r="2.25"/><circle cx="185.9" cy="95.7" r="2.25"/><circle cx="171.9" cy="116.5" r="2.25"/><circle cx="157.0" cy="131.7" r="2.25"/><circle cx="191.6" cy="89.0" r="2.25"/><circle cx="185.1" cy="99.4" r="2.25"/><circle cx="163.8" cy="130.9" r="2.25"/><circle cx="165.8" cy="136.2" r="2.25"/><circle cx="180.7" cy="127.0" r="2.25"/><circle cx="178.4" cy="113.1" r="2.25"/><circle cx="168.4" cy="131.6" r="2.25"/><circle cx="160.6" cy="124.7" r="2.25"/><circle cx="174.1" cy="118.0" r="2.25"/><circle cx="154.1" cy="129.6" r="2.25"/><circle cx="181.5" cy="108.4" r="2.25"/><circle cx="170.9" cy="111.9" r="2.25"/><circle cx="191.8" cy="84.1" r="2.25"/><circle cx="173.2" cy="115.2" r="2.25"/><circle cx="172.1" cy="124.4" r="2.25"/><circle cx="177.5" cy="122.5" r="2.25"/><circle cx="165.9" cy="127.1" r="2.25"/><circle cx="180.4" cy="110.1" r="2.25"/><circle cx="190.5" cy="87.1" r="2.25"/><circle cx="168.7" cy="110.6" r="2.25"/><circle cx="170.2" cy="118.1" r="2.25"/><circle cx="174.3" cy="124.4" r="2.25"/><circle cx="167.1" cy="123.3" r="2.25"/><circle cx="193.3" cy="84.9" r="2.25"/><circle cx="192.8" cy="88.2" r="2.25"/><circle cx="178.0" cy="108.8" r="2.25"/><circle cx="155.9" cy="129.4" r="2.25"/><circle cx="173.7" cy="106.8" r="2.25"/><circle cx="181.5" cy="124.7" r="2.25"/><circle cx="169.4" cy="117.6" r="2.25"/><circle cx="168.7" cy="119.7" r="2.25"/><circle cx="179.1" cy="102.6" r="2.25"/><circle cx="164.6" cy="136.5" r="2.25"/><circle cx="170.2" cy="135.2" r="2.25"/><circle cx="170.8" cy="131.2" r="2.25"/><circle cx="156.5" cy="120.8" r="2.25"/><circle cx="185.1" cy="94.0" r="2.25"/><circle cx="187.3" cy="85.4" r="2.25"/><circle cx="187.8" cy="85.7" r="2.25"/><circle cx="190.1" cy="84.3" r="2.25"/><circle cx="192.4" cy="82.9" r="2.25"/><circle cx="193.9" cy="84.4" r="2.25"/><circle cx="194.7" cy="81.9" r="2.25"/><circle cx="198.0" cy="82.2" r="2.25"/><circle cx="199.3" cy="82.3" r="2.25"/><circle cx="202.0" cy="80.6" r="2.25"/><circle cx="202.4" cy="81.1" r="2.25"/><circle cx="204.2" cy="79.1" r="2.25"/><circle cx="205.9" cy="80.5" r="2.25"/><circle cx="185.1" cy="77.8" r="2.25"/><circle cx="190.0" cy="77.4" r="2.25"/><circle cx="191.9" cy="69.6" r="2.25"/><circle cx="196.7" cy="68.1" r="2.25"/><circle cx="199.7" cy="68.1" r="2.25"/><circle cx="198.1" cy="63.2" r="2.25"/><circle cx="203.5" cy="57.4" r="2.25"/><circle cx="200.6" cy="62.2" r="2.25"/><circle cx="222.1" cy="63.2" r="2.25"/><circle cx="208.0" cy="56.8" r="2.25"/><circle cx="212.9" cy="62.9" r="2.25"/><circle cx="213.4" cy="57.3" r="2.25"/><circle cx="218.5" cy="61.1" r="2.25"/><circle cx="207.4" cy="63.7" r="2.25"/><circle cx="203.8" cy="58.9" r="2.25"/><circle cx="222.9" cy="58.0" r="2.25"/><circle cx="209.3" cy="58.8" r="2.25"/><circle cx="222.2" cy="67.3" r="2.25"/><circle cx="210.6" cy="57.8" r="2.25"/><circle cx="211.1" cy="66.4" r="2.25"/><circle cx="224.9" cy="63.5" r="2.25"/><circle cx="222.0" cy="56.1" r="2.25"/><circle cx="204.6" cy="65.7" r="2.25"/><circle cx="224.0" cy="56.6" r="2.25"/><circle cx="208.6" cy="67.8" r="2.25"/><circle cx="218.0" cy="66.9" r="2.25"/><circle cx="211.3" cy="69.2" r="2.25"/><circle cx="209.4" cy="63.1" r="2.25"/><circle cx="219.5" cy="58.3" r="2.25"/><circle cx="209.6" cy="59.9" r="2.25"/><circle cx="214.7" cy="68.0" r="2.25"/><circle cx="206.7" cy="60.0" r="2.25"/><circle cx="226.5" cy="61.5" r="2.25"/><circle cx="206.3" cy="61.7" r="2.25"/><circle cx="213.7" cy="61.1" r="2.25"/><circle cx="237.5" cy="57.0" r="2.25"/><circle cx="232.7" cy="62.2" r="2.25"/><circle cx="228.8" cy="66.1" r="2.25"/><circle cx="234.6" cy="72.0" r="2.25"/><circle cx="226.8" cy="75.8" r="2.25"/><circle cx="233.6" cy="78.2" r="2.25"/><circle cx="239.5" cy="77.8" r="2.25"/><circle cx="219.1" cy="72.9" r="2.25"/><circle cx="231.7" cy="67.1" r="2.25"/><circle cx="236.6" cy="69.0" r="2.25"/></g>
<g stroke="#0776C4"><circle cx="102.6" cy="169.0" r="2.25"/><circle cx="101.3" cy="165.4" r="2.25"/><circle cx="100.2" cy="168.6" r="2.25"/><circle cx="97.3" cy="166.7" r="2.25"/><circle cx="106.9" cy="167.9" r="2.25"/><circle cx="98.3" cy="166.6" r="2.25"/><circle cx="104.5" cy="165.0" r="2.25"/><circle cx="106.9" cy="166.1" r="2.25"/><circle cx="105.5" cy="165.9" r="2.25"/><circle cx="98.6" cy="168.8" r="2.25"/><circle cx="98.9" cy="165.7" r="2.25"/><circle cx="102.1" cy="166.7" r="2.25"/><circle cx="99.9" cy="165.7" r="2.25"/><circle cx="102.0" cy="167.4" r="2.25"/><circle cx="103.0" cy="166.1" r="2.25"/><circle cx="103.7" cy="167.7" r="2.25"/><circle cx="115.3" cy="165.7" r="2.25"/><circle cx="118.6" cy="164.6" r="2.25"/><circle cx="122.1" cy="164.2" r="2.25"/><circle cx="125.0" cy="165.2" r="2.25"/><circle cx="126.9" cy="159.9" r="2.25"/><circle cx="130.2" cy="156.4" r="2.25"/><circle cx="132.8" cy="158.4" r="2.25"/><circle cx="134.7" cy="161.3" r="2.25"/><circle cx="129.8" cy="162.2" r="2.25"/><circle cx="132.2" cy="146.7" r="2.25"/><circle cx="135.7" cy="150.2" r="2.25"/><circle cx="139.6" cy="150.6" r="2.25"/><circle cx="136.6" cy="144.8" r="2.25"/><circle cx="139.6" cy="142.4" r="2.25"/><circle cx="132.8" cy="152.5" r="2.25"/><circle cx="137.6" cy="155.4" r="2.25"/><circle cx="131.1" cy="137.5" r="2.25"/><circle cx="127.5" cy="139.5" r="2.25"/><circle cx="138.8" cy="137.4" r="2.25"/><circle cx="132.4" cy="139.1" r="2.25"/><circle cx="125.7" cy="138.8" r="2.25"/><circle cx="138.5" cy="137.9" r="2.25"/><circle cx="129.6" cy="137.1" r="2.25"/><circle cx="134.3" cy="139.1" r="2.25"/><circle cx="138.5" cy="134.9" r="2.25"/><circle cx="139.0" cy="133.9" r="2.25"/><circle cx="136.0" cy="133.5" r="2.25"/><circle cx="138.0" cy="136.6" r="2.25"/><circle cx="128.5" cy="133.6" r="2.25"/><circle cx="138.9" cy="136.8" r="2.25"/><circle cx="127.5" cy="134.5" r="2.25"/><circle cx="134.1" cy="136.2" r="2.25"/><circle cx="131.4" cy="136.4" r="2.25"/><circle cx="135.0" cy="133.3" r="2.25"/><circle cx="128.7" cy="136.8" r="2.25"/><circle cx="136.7" cy="136.6" r="2.25"/><circle cx="143.9" cy="133.6" r="2.25"/><circle cx="146.8" cy="131.7" r="2.25"/><circle cx="149.2" cy="130.1" r="2.25"/><circle cx="151.7" cy="118.1" r="2.25"/><circle cx="154.6" cy="113.2" r="2.25"/><circle cx="153.6" cy="122.9" r="2.25"/><circle cx="157.5" cy="116.1" r="2.25"/><circle cx="160.4" cy="118.1" r="2.25"/><circle cx="158.9" cy="122.9" r="2.25"/><circle cx="162.4" cy="121.0" r="2.25"/><circle cx="155.6" cy="120.0" r="2.25"/><circle cx="150.7" cy="122.0" r="2.25"/><circle cx="163.3" cy="116.1" r="2.25"/><circle cx="172.0" cy="99.4" r="2.25"/><circle cx="182.5" cy="95.0" r="2.25"/><circle cx="176.8" cy="99.7" r="2.25"/><circle cx="172.7" cy="95.0" r="2.25"/><circle cx="178.6" cy="97.1" r="2.25"/><circle cx="177.0" cy="93.3" r="2.25"/><circle cx="165.8" cy="97.0" r="2.25"/><circle cx="167.6" cy="94.2" r="2.25"/><circle cx="175.3" cy="100.7" r="2.25"/><circle cx="176.9" cy="97.5" r="2.25"/><circle cx="166.1" cy="94.4" r="2.25"/><circle cx="182.6" cy="97.9" r="2.25"/><circle cx="170.0" cy="93.2" r="2.25"/><circle cx="167.9" cy="98.0" r="2.25"/><circle cx="174.0" cy="96.1" r="2.25"/><circle cx="175.5" cy="94.5" r="2.25"/><circle cx="170.7" cy="95.3" r="2.25"/><circle cx="182.1" cy="96.6" r="2.25"/><circle cx="172.8" cy="98.2" r="2.25"/><circle cx="180.7" cy="96.4" r="2.25"/><circle cx="178.1" cy="99.3" r="2.25"/><circle cx="183.3" cy="97.4" r="2.25"/><circle cx="169.0" cy="93.7" r="2.25"/><circle cx="164.8" cy="112.5" r="2.25"/><circle cx="171.3" cy="105.2" r="2.25"/><circle cx="156.1" cy="114.6" r="2.25"/><circle cx="166.2" cy="118.4" r="2.25"/><circle cx="158.7" cy="121.7" r="2.25"/><circle cx="172.0" cy="108.5" r="2.25"/><circle cx="158.6" cy="115.9" r="2.25"/><circle cx="165.3" cy="106.1" r="2.25"/><circle cx="163.3" cy="117.4" r="2.25"/><circle cx="160.0" cy="117.5" r="2.25"/><circle cx="161.6" cy="121.1" r="2.25"/><circle cx="169.0" cy="108.9" r="2.25"/><circle cx="159.2" cy="113.0" r="2.25"/><circle cx="158.9" cy="119.8" r="2.25"/><circle cx="170.2" cy="107.3" r="2.25"/><circle cx="160.8" cy="113.2" r="2.25"/><circle cx="164.5" cy="119.8" r="2.25"/><circle cx="168.2" cy="111.4" r="2.25"/><circle cx="165.7" cy="119.8" r="2.25"/></g></g>
<rect x="58.3" y="37.5" width="194.7" height="198.0" fill="none" stroke="#333333" stroke-width="1.2"/>
<path d="M77.8 235.5v-2.4M77.8 37.5v2.4M58.3 215.7h2.4M253.0 215.7h-2.4M116.7 235.5v-2.4M116.7 37.5v2.4M58.3 176.1h2.4M253.0 176.1h-2.4M155.6 235.5v-2.4M155.6 37.5v2.4M58.3 136.5h2.4M253.0 136.5h-2.4M194.6 235.5v-2.4M194.6 37.5v2.4M58.3 96.9h2.4M253.0 96.9h-2.4M233.5 235.5v-2.4M233.5 37.5v2.4M58.3 57.3h2.4M253.0 57.3h-2.4" stroke="#333333" stroke-width="1.1" fill="none"/>
<text x="77.8" y="262.2" text-anchor="middle" font-size="19">2</text>
<text x="51.5" y="222.6" text-anchor="end" font-size="19">2</text>
<text x="116.7" y="262.2" text-anchor="middle" font-size="19">4</text>
<text x="51.5" y="183.0" text-anchor="end" font-size="19">4</text>
<text x="155.6" y="262.2" text-anchor="middle" font-size="19">6</text>
<text x="51.5" y="143.4" text-anchor="end" font-size="19">6</text>
<text x="194.6" y="262.2" text-anchor="middle" font-size="19">8</text>
<text x="51.5" y="103.8" text-anchor="end" font-size="19">8</text>
<text x="233.5" y="262.2" text-anchor="middle" font-size="19">10</text>
<text x="51.5" y="64.2" text-anchor="end" font-size="19">10</text>
<text x="78.0" y="64.5" font-size="19.7">(a)</text>
<text x="155.6" y="202.4" font-size="16">ME: 0.69 m</text>
<text x="155.6" y="222.3" font-size="16">Corr: 0.94</text></g>
<g id="panel-b"><line x1="315.0" y1="235.5" x2="509.5" y2="37.5" stroke="#000" stroke-width="1.7"/>
<g fill="none" stroke-width="1.35"><g stroke="#62AD24"><circle cx="340.5" cy="177.5" r="2.25"/><circle cx="347.0" cy="174.7" r="2.25"/><circle cx="357.4" cy="143.3" r="2.25"/><circle cx="346.1" cy="160.8" r="2.25"/><circle cx="339.5" cy="172.5" r="2.25"/><circle cx="334.5" cy="176.8" r="2.25"/><circle cx="360.8" cy="142.6" r="2.25"/><circle cx="337.6" cy="186.1" r="2.25"/><circle cx="350.9" cy="167.3" r="2.25"/><circle cx="352.9" cy="159.6" r="2.25"/><circle cx="353.8" cy="162.5" r="2.25"/><circle cx="347.6" cy="173.6" r="2.25"/><circle cx="349.7" cy="153.0" r="2.25"/><circle cx="345.2" cy="168.1" r="2.25"/><circle cx="340.4" cy="169.8" r="2.25"/><circle cx="346.9" cy="166.9" r="2.25"/><circle cx="348.9" cy="158.2" r="2.25"/><circle cx="346.0" cy="167.8" r="2.25"/><circle cx="343.1" cy="172.5" r="2.25"/><circle cx="337.5" cy="180.8" r="2.25"/><circle cx="344.0" cy="166.9" r="2.25"/><circle cx="364.7" cy="140.7" r="2.25"/><circle cx="351.9" cy="167.5" r="2.25"/><circle cx="343.1" cy="168.1" r="2.25"/><circle cx="349.9" cy="169.2" r="2.25"/><circle cx="355.4" cy="144.4" r="2.25"/><circle cx="351.0" cy="156.1" r="2.25"/><circle cx="347.9" cy="169.5" r="2.25"/><circle cx="342.3" cy="178.1" r="2.25"/><circle cx="333.8" cy="184.3" r="2.25"/><circle cx="335.7" cy="183.6" r="2.25"/><circle cx="338.0" cy="172.6" r="2.25"/><circle cx="356.8" cy="162.2" r="2.25"/><circle cx="337.7" cy="184.4" r="2.25"/><circle cx="353.1" cy="165.4" r="2.25"/><circle cx="362.6" cy="143.3" r="2.25"/><circle cx="349.8" cy="164.4" r="2.25"/><circle cx="351.7" cy="170.3" r="2.25"/><circle cx="342.6" cy="173.7" r="2.25"/><circle cx="345.6" cy="170.2" r="2.25"/><circle cx="348.5" cy="153.9" r="2.25"/><circle cx="336.3" cy="175.4" r="2.25"/><circle cx="341.5" cy="175.9" r="2.25"/><circle cx="348.9" cy="164.7" r="2.25"/><circle cx="335.0" cy="185.2" r="2.25"/><circle cx="351.3" cy="172.9" r="2.25"/><circle cx="346.8" cy="169.8" r="2.25"/><circle cx="347.3" cy="160.5" r="2.25"/><circle cx="352.4" cy="168.8" r="2.25"/><circle cx="358.1" cy="141.9" r="2.25"/><circle cx="343.5" cy="178.5" r="2.25"/><circle cx="339.3" cy="184.6" r="2.25"/><circle cx="340.3" cy="168.2" r="2.25"/><circle cx="339.4" cy="181.5" r="2.25"/><circle cx="335.8" cy="182.0" r="2.25"/><circle cx="348.0" cy="171.2" r="2.25"/><circle cx="362.2" cy="140.9" r="2.25"/><circle cx="343.8" cy="176.6" r="2.25"/><circle cx="348.2" cy="174.2" r="2.25"/><circle cx="341.0" cy="179.1" r="2.25"/><circle cx="335.6" cy="172.7" r="2.25"/><circle cx="346.5" cy="172.2" r="2.25"/><circle cx="341.8" cy="166.8" r="2.25"/><circle cx="339.4" cy="178.9" r="2.25"/><circle cx="344.4" cy="169.4" r="2.25"/><circle cx="365.8" cy="141.9" r="2.25"/><circle cx="348.1" cy="157.1" r="2.25"/><circle cx="359.9" cy="142.9" r="2.25"/><circle cx="335.7" cy="171.4" r="2.25"/><circle cx="344.8" cy="162.5" r="2.25"/><circle cx="352.4" cy="158.4" r="2.25"/><circle cx="350.3" cy="162.3" r="2.25"/><circle cx="337.2" cy="175.8" r="2.25"/><circle cx="350.4" cy="165.9" r="2.25"/><circle cx="347.0" cy="162.2" r="2.25"/><circle cx="343.7" cy="175.4" r="2.25"/><circle cx="350.3" cy="151.7" r="2.25"/><circle cx="363.3" cy="141.9" r="2.25"/><circle cx="341.9" cy="171.8" r="2.25"/><circle cx="354.3" cy="166.8" r="2.25"/><circle cx="341.7" cy="180.0" r="2.25"/><circle cx="362.6" cy="142.2" r="2.25"/><circle cx="354.0" cy="162.5" r="2.25"/><circle cx="337.4" cy="177.9" r="2.25"/><circle cx="354.7" cy="166.0" r="2.25"/><circle cx="349.4" cy="170.9" r="2.25"/><circle cx="349.9" cy="160.6" r="2.25"/><circle cx="337.1" cy="186.9" r="2.25"/><circle cx="352.0" cy="162.2" r="2.25"/><circle cx="335.2" cy="178.1" r="2.25"/><circle cx="340.7" cy="183.2" r="2.25"/><circle cx="348.7" cy="169.1" r="2.25"/><circle cx="345.6" cy="166.7" r="2.25"/><circle cx="338.5" cy="171.7" r="2.25"/><circle cx="337.9" cy="170.3" r="2.25"/><circle cx="340.6" cy="170.6" r="2.25"/><circle cx="359.9" cy="143.8" r="2.25"/><circle cx="349.5" cy="158.9" r="2.25"/><circle cx="350.7" cy="155.9" r="2.25"/><circle cx="343.8" cy="171.4" r="2.25"/><circle cx="342.4" cy="177.9" r="2.25"/><circle cx="347.7" cy="172.6" r="2.25"/><circle cx="349.7" cy="155.1" r="2.25"/><circle cx="338.6" cy="174.7" r="2.25"/><circle cx="346.5" cy="164.5" r="2.25"/><circle cx="353.3" cy="147.3" r="2.25"/><circle cx="352.1" cy="172.3" r="2.25"/><circle cx="341.0" cy="180.6" r="2.25"/><circle cx="336.6" cy="185.3" r="2.25"/><circle cx="355.2" cy="164.5" r="2.25"/><circle cx="337.7" cy="186.3" r="2.25"/><circle cx="343.1" cy="175.2" r="2.25"/><circle cx="343.9" cy="173.6" r="2.25"/><circle cx="335.2" cy="175.4" r="2.25"/><circle cx="347.0" cy="175.6" r="2.25"/><circle cx="335.0" cy="181.3" r="2.25"/><circle cx="352.4" cy="167.8" r="2.25"/><circle cx="339.5" cy="178.0" r="2.25"/><circle cx="337.5" cy="171.7" r="2.25"/><circle cx="374.0" cy="182.0" r="2.25"/><circle cx="361.5" cy="191.0" r="2.25"/><circle cx="374.2" cy="177.1" r="2.25"/><circle cx="371.9" cy="180.9" r="2.25"/><circle cx="371.7" cy="178.7" r="2.25"/><circle cx="371.0" cy="184.7" r="2.25"/><circle cx="367.2" cy="181.8" r="2.25"/><circle cx="367.0" cy="185.7" r="2.25"/><circle cx="364.1" cy="187.2" r="2.25"/><circle cx="372.9" cy="179.4" r="2.25"/><circle cx="363.3" cy="190.1" r="2.25"/><circle cx="369.3" cy="186.0" r="2.25"/><circle cx="369.1" cy="183.8" r="2.25"/><circle cx="367.4" cy="183.8" r="2.25"/><circle cx="366.6" cy="184.8" r="2.25"/><circle cx="362.0" cy="188.9" r="2.25"/><circle cx="367.0" cy="183.1" r="2.25"/><circle cx="371.5" cy="187.5" r="2.25"/><circle cx="375.5" cy="184.7" r="2.25"/><circle cx="365.3" cy="183.9" r="2.25"/><circle cx="382.9" cy="176.8" r="2.25"/><circle cx="387.8" cy="164.2" r="2.25"/><circle cx="391.7" cy="162.2" r="2.25"/><circle cx="399.4" cy="156.4" r="2.25"/><circle cx="382.0" cy="169.0" r="2.25"/><circle cx="372.3" cy="181.7" r="2.25"/><circle cx="373.2" cy="186.5" r="2.25"/><circle cx="387.0" cy="111.4" r="2.25"/><circle cx="390.5" cy="109.2" r="2.25"/><circle cx="400.8" cy="102.0" r="2.25"/><circle cx="394.9" cy="101.9" r="2.25"/><circle cx="389.3" cy="106.3" r="2.25"/><circle cx="386.5" cy="107.0" r="2.25"/><circle cx="402.3" cy="103.1" r="2.25"/><circle cx="398.6" cy="103.6" r="2.25"/><circle cx="398.0" cy="99.6" r="2.25"/><circle cx="390.8" cy="104.6" r="2.25"/><circle cx="387.0" cy="109.9" r="2.25"/><circle cx="387.4" cy="108.7" r="2.25"/><circle cx="392.4" cy="99.9" r="2.25"/><circle cx="392.5" cy="107.7" r="2.25"/><circle cx="391.8" cy="102.2" r="2.25"/><circle cx="391.9" cy="103.9" r="2.25"/><circle cx="390.6" cy="102.4" r="2.25"/><circle cx="396.5" cy="101.5" r="2.25"/><circle cx="405.0" cy="98.4" r="2.25"/><circle cx="394.1" cy="103.0" r="2.25"/><circle cx="392.3" cy="105.5" r="2.25"/><circle cx="386.5" cy="108.2" r="2.25"/><circle cx="393.8" cy="100.8" r="2.25"/><circle cx="391.9" cy="105.1" r="2.25"/><circle cx="400.7" cy="98.8" r="2.25"/><circle cx="397.5" cy="102.2" r="2.25"/><circle cx="384.9" cy="111.6" r="2.25"/><circle cx="397.0" cy="99.6" r="2.25"/><circle cx="388.9" cy="107.5" r="2.25"/><circle cx="405.0" cy="99.1" r="2.25"/><circle cx="404.3" cy="100.7" r="2.25"/><circle cx="389.2" cy="103.1" r="2.25"/><circle cx="391.8" cy="101.3" r="2.25"/><circle cx="388.7" cy="109.5" r="2.25"/><circle cx="386.8" cy="112.7" r="2.25"/><circle cx="388.6" cy="106.9" r="2.25"/><circle cx="396.4" cy="99.7" r="2.25"/><circle cx="401.7" cy="103.4" r="2.25"/><circle cx="372.7" cy="124.9" r="2.25"/><circle cx="376.6" cy="123.9" r="2.25"/><circle cx="377.6" cy="128.2" r="2.25"/><circle cx="368.3" cy="133.6" r="2.25"/><circle cx="374.7" cy="134.6" r="2.25"/><circle cx="375.7" cy="126.8" r="2.25"/><circle cx="412.6" cy="126.4" r="2.25"/><circle cx="408.7" cy="131.6" r="2.25"/><circle cx="414.7" cy="129.3" r="2.25"/><circle cx="414.9" cy="123.1" r="2.25"/><circle cx="406.6" cy="125.9" r="2.25"/><circle cx="411.3" cy="129.6" r="2.25"/><circle cx="416.7" cy="126.3" r="2.25"/><circle cx="406.4" cy="135.3" r="2.25"/><circle cx="413.3" cy="133.6" r="2.25"/><circle cx="416.9" cy="131.6" r="2.25"/><circle cx="409.4" cy="124.5" r="2.25"/><circle cx="411.6" cy="123.5" r="2.25"/><circle cx="409.6" cy="134.0" r="2.25"/><circle cx="409.3" cy="123.7" r="2.25"/><circle cx="408.2" cy="127.6" r="2.25"/><circle cx="410.4" cy="136.6" r="2.25"/><circle cx="414.0" cy="127.9" r="2.25"/><circle cx="408.8" cy="136.1" r="2.25"/><circle cx="406.4" cy="130.1" r="2.25"/><circle cx="413.5" cy="131.0" r="2.25"/><circle cx="406.4" cy="133.1" r="2.25"/><circle cx="417.3" cy="125.2" r="2.25"/><circle cx="405.9" cy="124.6" r="2.25"/><circle cx="409.1" cy="127.0" r="2.25"/><circle cx="416.0" cy="122.3" r="2.25"/><circle cx="415.2" cy="133.1" r="2.25"/><circle cx="416.2" cy="124.5" r="2.25"/><circle cx="417.6" cy="129.4" r="2.25"/><circle cx="411.6" cy="128.7" r="2.25"/><circle cx="408.2" cy="128.2" r="2.25"/><circle cx="410.7" cy="127.9" r="2.25"/><circle cx="405.6" cy="123.4" r="2.25"/><circle cx="408.3" cy="130.4" r="2.25"/><circle cx="411.6" cy="134.9" r="2.25"/><circle cx="407.8" cy="124.0" r="2.25"/><circle cx="415.9" cy="135.4" r="2.25"/><circle cx="446.9" cy="82.6" r="2.25"/><circle cx="448.9" cy="84.6" r="2.25"/><circle cx="444.0" cy="88.5" r="2.25"/><circle cx="446.0" cy="91.4" r="2.25"/><circle cx="441.1" cy="93.3" r="2.25"/><circle cx="440.1" cy="97.2" r="2.25"/><circle cx="443.0" cy="95.3" r="2.25"/><circle cx="416.4" cy="120.1" r="2.25"/><circle cx="412.1" cy="128.7" r="2.25"/><circle cx="414.7" cy="120.6" r="2.25"/><circle cx="412.3" cy="120.9" r="2.25"/><circle cx="413.1" cy="134.3" r="2.25"/><circle cx="417.4" cy="126.3" r="2.25"/><circle cx="415.6" cy="130.9" r="2.25"/><circle cx="417.8" cy="127.8" r="2.25"/><circle cx="414.8" cy="128.1" r="2.25"/><circle cx="413.1" cy="127.2" r="2.25"/><circle cx="412.9" cy="123.6" r="2.25"/><circle cx="413.0" cy="132.9" r="2.25"/><circle cx="416.5" cy="124.4" r="2.25"/><circle cx="415.3" cy="121.5" r="2.25"/><circle cx="414.2" cy="122.8" r="2.25"/><circle cx="411.8" cy="122.2" r="2.25"/><circle cx="418.9" cy="122.6" r="2.25"/><circle cx="418.4" cy="121.7" r="2.25"/><circle cx="417.7" cy="120.0" r="2.25"/><circle cx="417.4" cy="122.9" r="2.25"/><circle cx="417.4" cy="128.0" r="2.25"/><circle cx="425.6" cy="111.8" r="2.25"/><circle cx="428.5" cy="109.8" r="2.25"/><circle cx="430.4" cy="113.1" r="2.25"/></g>
<g stroke="#FDAE05"><circle cx="347.0" cy="181.8" r="2.25"/><circle cx="333.1" cy="194.5" r="2.25"/><circle cx="343.7" cy="194.4" r="2.25"/><circle cx="374.6" cy="165.9" r="2.25"/><circle cx="361.3" cy="173.9" r="2.25"/><circle cx="351.8" cy="178.8" r="2.25"/><circle cx="345.7" cy="188.6" r="2.25"/><circle cx="369.7" cy="172.9" r="2.25"/><circle cx="362.3" cy="170.1" r="2.25"/><circle cx="358.9" cy="172.8" r="2.25"/><circle cx="351.3" cy="194.1" r="2.25"/><circle cx="354.9" cy="190.7" r="2.25"/><circle cx="367.5" cy="179.7" r="2.25"/><circle cx="359.0" cy="178.9" r="2.25"/><circle cx="350.1" cy="178.1" r="2.25"/><circle cx="376.2" cy="169.8" r="2.25"/><circle cx="326.9" cy="195.1" r="2.25"/><circle cx="354.6" cy="173.2" r="2.25"/><circle cx="357.8" cy="174.8" r="2.25"/><circle cx="370.9" cy="165.4" r="2.25"/><circle cx="361.4" cy="181.0" r="2.25"/><circle cx="378.2" cy="168.1" r="2.25"/><circle cx="355.5" cy="182.3" r="2.25"/><circle cx="374.8" cy="160.8" r="2.25"/><circle cx="331.2" cy="197.4" r="2.25"/><circle cx="356.6" cy="181.6" r="2.25"/><circle cx="366.9" cy="167.4" r="2.25"/><circle cx="366.5" cy="178.6" r="2.25"/><circle cx="375.4" cy="172.6" r="2.25"/><circle cx="347.2" cy="198.3" r="2.25"/><circle cx="361.9" cy="183.6" r="2.25"/><circle cx="338.1" cy="190.9" r="2.25"/><circle cx="362.0" cy="179.1" r="2.25"/><circle cx="358.7" cy="187.2" r="2.25"/><circle cx="342.5" cy="185.2" r="2.25"/><circle cx="342.9" cy="195.2" r="2.25"/><circle cx="370.2" cy="176.8" r="2.25"/><circle cx="362.9" cy="167.2" r="2.25"/><circle cx="372.5" cy="163.9" r="2.25"/><circle cx="347.9" cy="195.5" r="2.25"/><circle cx="352.6" cy="185.3" r="2.25"/><circle cx="355.0" cy="189.3" r="2.25"/><circle cx="376.4" cy="167.9" r="2.25"/><circle cx="343.6" cy="197.4" r="2.25"/><circle cx="347.7" cy="180.7" r="2.25"/><circle cx="349.1" cy="183.7" r="2.25"/><circle cx="341.4" cy="191.8" r="2.25"/><circle cx="344.3" cy="186.7" r="2.25"/><circle cx="372.9" cy="173.3" r="2.25"/><circle cx="370.8" cy="171.2" r="2.25"/><circle cx="375.1" cy="168.0" r="2.25"/><circle cx="347.6" cy="194.0" r="2.25"/><circle cx="363.6" cy="178.0" r="2.25"/><circle cx="348.2" cy="190.6" r="2.25"/><circle cx="358.8" cy="184.6" r="2.25"/><circle cx="377.3" cy="166.7" r="2.25"/><circle cx="356.6" cy="176.2" r="2.25"/><circle cx="354.1" cy="185.7" r="2.25"/><circle cx="335.7" cy="197.8" r="2.25"/><circle cx="347.0" cy="189.4" r="2.25"/><circle cx="356.1" cy="186.7" r="2.25"/><circle cx="354.4" cy="179.7" r="2.25"/><circle cx="367.8" cy="169.1" r="2.25"/><circle cx="348.6" cy="196.7" r="2.25"/><circle cx="331.3" cy="195.1" r="2.25"/><circle cx="336.0" cy="194.1" r="2.25"/><circle cx="339.3" cy="196.5" r="2.25"/><circle cx="352.5" cy="192.2" r="2.25"/><circle cx="351.0" cy="181.2" r="2.25"/><circle cx="335.5" cy="191.3" r="2.25"/><circle cx="374.9" cy="167.0" r="2.25"/><circle cx="355.2" cy="183.5" r="2.25"/><circle cx="346.7" cy="186.9" r="2.25"/><circle cx="338.1" cy="189.6" r="2.25"/><circle cx="345.6" cy="192.3" r="2.25"/><circle cx="365.1" cy="179.0" r="2.25"/><circle cx="369.6" cy="172.3" r="2.25"/><circle cx="345.7" cy="197.1" r="2.25"/><circle cx="329.3" cy="198.0" r="2.25"/><circle cx="333.3" cy="193.5" r="2.25"/><circle cx="367.6" cy="164.7" r="2.25"/><circle cx="373.1" cy="161.7" r="2.25"/><circle cx="353.2" cy="176.3" r="2.25"/><circle cx="369.6" cy="170.9" r="2.25"/><circle cx="368.6" cy="167.8" r="2.25"/><circle cx="357.2" cy="171.2" r="2.25"/><circle cx="359.1" cy="173.6" r="2.25"/><circle cx="361.0" cy="176.8" r="2.25"/><circle cx="345.6" cy="195.5" r="2.25"/><circle cx="353.5" cy="186.1" r="2.25"/><circle cx="376.7" cy="169.6" r="2.25"/><circle cx="350.5" cy="189.3" r="2.25"/><circle cx="349.6" cy="193.0" r="2.25"/><circle cx="364.8" cy="181.7" r="2.25"/><circle cx="368.7" cy="165.5" r="2.25"/><circle cx="358.2" cy="187.2" r="2.25"/><circle cx="371.7" cy="167.5" r="2.25"/><circle cx="370.6" cy="162.1" r="2.25"/><circle cx="360.1" cy="183.8" r="2.25"/><circle cx="333.1" cy="197.4" r="2.25"/><circle cx="342.7" cy="185.1" r="2.25"/><circle cx="364.2" cy="171.0" r="2.25"/><circle cx="344.2" cy="183.4" r="2.25"/><circle cx="325.7" cy="195.6" r="2.25"/><circle cx="357.7" cy="179.4" r="2.25"/><circle cx="372.2" cy="165.6" r="2.25"/><circle cx="352.1" cy="189.6" r="2.25"/><circle cx="349.3" cy="184.9" r="2.25"/><circle cx="355.6" cy="173.8" r="2.25"/><circle cx="339.6" cy="188.0" r="2.25"/><circle cx="335.7" cy="199.6" r="2.25"/><circle cx="341.0" cy="193.3" r="2.25"/><circle cx="354.9" cy="182.2" r="2.25"/><circle cx="352.1" cy="179.3" r="2.25"/><circle cx="362.0" cy="174.9" r="2.25"/><circle cx="357.5" cy="174.2" r="2.25"/><circle cx="345.9" cy="185.6" r="2.25"/><circle cx="352.3" cy="193.2" r="2.25"/><circle cx="352.8" cy="187.8" r="2.25"/><circle cx="352.5" cy="188.8" r="2.25"/><circle cx="352.8" cy="180.6" r="2.25"/><circle cx="357.6" cy="182.8" r="2.25"/><circle cx="348.0" cy="184.7" r="2.25"/><circle cx="366.3" cy="174.0" r="2.25"/><circle cx="332.8" cy="199.5" r="2.25"/><circle cx="335.3" cy="196.6" r="2.25"/><circle cx="357.1" cy="185.2" r="2.25"/><circle cx="347.8" cy="188.9" r="2.25"/><circle cx="352.5" cy="191.1" r="2.25"/><circle cx="330.2" cy="197.1" r="2.25"/><circle cx="351.9" cy="186.1" r="2.25"/><circle cx="354.9" cy="180.1" r="2.25"/><circle cx="361.1" cy="169.6" r="2.25"/><circle cx="346.1" cy="183.2" r="2.25"/><circle cx="334.6" cy="197.5" r="2.25"/><circle cx="354.6" cy="182.9" r="2.25"/><circle cx="363.4" cy="167.4" r="2.25"/><circle cx="365.3" cy="177.3" r="2.25"/><circle cx="343.7" cy="191.2" r="2.25"/><circle cx="351.2" cy="191.7" r="2.25"/><circle cx="378.5" cy="168.0" r="2.25"/><circle cx="372.3" cy="169.6" r="2.25"/><circle cx="355.0" cy="177.8" r="2.25"/><circle cx="346.3" cy="189.9" r="2.25"/><circle cx="336.2" cy="194.5" r="2.25"/><circle cx="347.3" cy="187.5" r="2.25"/><circle cx="361.2" cy="179.6" r="2.25"/><circle cx="333.6" cy="192.9" r="2.25"/><circle cx="355.9" cy="174.2" r="2.25"/><circle cx="359.4" cy="173.5" r="2.25"/><circle cx="360.8" cy="170.6" r="2.25"/><circle cx="363.0" cy="180.8" r="2.25"/><circle cx="348.5" cy="179.0" r="2.25"/><circle cx="371.0" cy="174.6" r="2.25"/><circle cx="363.3" cy="169.9" r="2.25"/><circle cx="343.9" cy="187.0" r="2.25"/><circle cx="338.9" cy="194.4" r="2.25"/><circle cx="376.5" cy="169.9" r="2.25"/><circle cx="358.9" cy="177.9" r="2.25"/><circle cx="368.4" cy="178.9" r="2.25"/><circle cx="374.3" cy="167.4" r="2.25"/><circle cx="347.6" cy="197.9" r="2.25"/><circle cx="347.8" cy="195.7" r="2.25"/><circle cx="360.9" cy="185.1" r="2.25"/><circle cx="344.8" cy="187.7" r="2.25"/><circle cx="354.0" cy="177.3" r="2.25"/><circle cx="359.9" cy="173.9" r="2.25"/><circle cx="370.1" cy="162.6" r="2.25"/><circle cx="370.1" cy="167.3" r="2.25"/><circle cx="372.0" cy="159.2" r="2.25"/><circle cx="368.0" cy="172.7" r="2.25"/><circle cx="363.5" cy="177.6" r="2.25"/><circle cx="356.2" cy="172.8" r="2.25"/><circle cx="352.4" cy="183.8" r="2.25"/><circle cx="369.7" cy="169.3" r="2.25"/><circle cx="350.1" cy="186.4" r="2.25"/><circle cx="330.3" cy="194.1" r="2.25"/><circle cx="372.3" cy="165.2" r="2.25"/><circle cx="345.1" cy="198.3" r="2.25"/><circle cx="336.8" cy="192.9" r="2.25"/><circle cx="357.4" cy="180.4" r="2.25"/><circle cx="350.9" cy="182.1" r="2.25"/><circle cx="364.1" cy="174.0" r="2.25"/><circle cx="358.4" cy="182.9" r="2.25"/><circle cx="352.2" cy="192.6" r="2.25"/><circle cx="369.5" cy="167.3" r="2.25"/><circle cx="345.3" cy="184.6" r="2.25"/><circle cx="333.4" cy="194.9" r="2.25"/><circle cx="344.4" cy="192.6" r="2.25"/><circle cx="336.0" cy="199.5" r="2.25"/><circle cx="350.4" cy="178.2" r="2.25"/><circle cx="365.2" cy="175.6" r="2.25"/><circle cx="357.4" cy="177.3" r="2.25"/><circle cx="364.2" cy="179.3" r="2.25"/><circle cx="359.4" cy="186.3" r="2.25"/><circle cx="355.1" cy="188.6" r="2.25"/><circle cx="362.7" cy="179.5" r="2.25"/><circle cx="367.3" cy="163.8" r="2.25"/><circle cx="346.4" cy="196.3" r="2.25"/><circle cx="376.6" cy="165.8" r="2.25"/><circle cx="364.5" cy="167.2" r="2.25"/><circle cx="353.7" cy="181.5" r="2.25"/><circle cx="361.9" cy="174.8" r="2.25"/><circle cx="366.4" cy="166.1" r="2.25"/><circle cx="342.7" cy="188.8" r="2.25"/><circle cx="374.0" cy="162.8" r="2.25"/><circle cx="348.2" cy="185.1" r="2.25"/><circle cx="357.7" cy="186.2" r="2.25"/><circle cx="353.5" cy="184.1" r="2.25"/><circle cx="343.5" cy="195.2" r="2.25"/><circle cx="347.3" cy="193.2" r="2.25"/><circle cx="366.8" cy="164.5" r="2.25"/><circle cx="341.4" cy="191.1" r="2.25"/><circle cx="337.3" cy="195.5" r="2.25"/><circle cx="343.1" cy="193.3" r="2.25"/><circle cx="370.7" cy="176.6" r="2.25"/><circle cx="337.6" cy="190.5" r="2.25"/><circle cx="368.1" cy="164.7" r="2.25"/><circle cx="353.0" cy="180.2" r="2.25"/><circle cx="341.2" cy="196.2" r="2.25"/><circle cx="338.6" cy="189.2" r="2.25"/><circle cx="334.2" cy="196.6" r="2.25"/><circle cx="377.9" cy="166.1" r="2.25"/><circle cx="355.3" cy="182.7" r="2.25"/><circle cx="343.9" cy="196.6" r="2.25"/><circle cx="342.5" cy="190.7" r="2.25"/><circle cx="360.2" cy="184.3" r="2.25"/><circle cx="347.7" cy="181.2" r="2.25"/><circle cx="368.7" cy="168.1" r="2.25"/><circle cx="372.1" cy="174.8" r="2.25"/><circle cx="383.0" cy="157.5" r="2.25"/><circle cx="403.2" cy="147.3" r="2.25"/><circle cx="410.1" cy="144.2" r="2.25"/><circle cx="393.9" cy="144.9" r="2.25"/><circle cx="382.3" cy="163.2" r="2.25"/><circle cx="393.1" cy="150.4" r="2.25"/><circle cx="399.9" cy="151.4" r="2.25"/><circle cx="392.8" cy="152.6" r="2.25"/><circle cx="387.6" cy="154.9" r="2.25"/><circle cx="385.6" cy="165.9" r="2.25"/><circle cx="379.4" cy="169.3" r="2.25"/><circle cx="396.8" cy="147.8" r="2.25"/><circle cx="385.5" cy="148.3" r="2.25"/><circle cx="409.0" cy="140.2" r="2.25"/><circle cx="397.4" cy="152.6" r="2.25"/><circle cx="384.2" cy="154.0" r="2.25"/><circle cx="397.8" cy="140.3" r="2.25"/><circle cx="388.3" cy="161.1" r="2.25"/><circle cx="394.0" cy="154.1" r="2.25"/><circle cx="407.6" cy="137.8" r="2.25"/><circle cx="399.4" cy="145.7" r="2.25"/><circle cx="404.5" cy="144.1" r="2.25"/><circle cx="376.4" cy="160.8" r="2.25"/><circle cx="377.9" cy="153.3" r="2.25"/><circle cx="395.2" cy="152.0" r="2.25"/><circle cx="389.0" cy="158.4" r="2.25"/><circle cx="378.2" cy="157.9" r="2.25"/><circle cx="401.7" cy="138.9" r="2.25"/><circle cx="398.2" cy="143.2" r="2.25"/><circle cx="394.9" cy="152.5" r="2.25"/><circle cx="405.0" cy="141.0" r="2.25"/><circle cx="382.3" cy="154.9" r="2.25"/><circle cx="396.5" cy="143.0" r="2.25"/><circle cx="386.2" cy="160.5" r="2.25"/><circle cx="386.7" cy="163.0" r="2.25"/><circle cx="377.5" cy="163.3" r="2.25"/><circle cx="407.5" cy="144.7" r="2.25"/><circle cx="391.1" cy="145.1" r="2.25"/><circle cx="383.4" cy="155.9" r="2.25"/><circle cx="389.6" cy="153.2" r="2.25"/><circle cx="403.9" cy="150.2" r="2.25"/><circle cx="383.7" cy="150.2" r="2.25"/><circle cx="394.4" cy="157.6" r="2.25"/><circle cx="376.1" cy="156.1" r="2.25"/><circle cx="385.2" cy="151.7" r="2.25"/><circle cx="388.1" cy="148.5" r="2.25"/><circle cx="391.8" cy="148.4" r="2.25"/><circle cx="391.1" cy="156.3" r="2.25"/><circle cx="389.1" cy="163.2" r="2.25"/><circle cx="384.8" cy="159.6" r="2.25"/><circle cx="379.0" cy="160.1" r="2.25"/><circle cx="391.1" cy="158.2" r="2.25"/><circle cx="378.6" cy="161.7" r="2.25"/><circle cx="380.0" cy="163.2" r="2.25"/><circle cx="383.9" cy="165.3" r="2.25"/><circle cx="386.9" cy="149.7" r="2.25"/><circle cx="399.4" cy="153.3" r="2.25"/><circle cx="395.0" cy="142.0" r="2.25"/><circle cx="395.6" cy="153.8" r="2.25"/><circle cx="407.1" cy="141.8" r="2.25"/><circle cx="377.5" cy="159.3" r="2.25"/><circle cx="399.4" cy="138.1" r="2.25"/><circle cx="400.0" cy="143.0" r="2.25"/><circle cx="393.0" cy="146.5" r="2.25"/><circle cx="380.5" cy="158.4" r="2.25"/><circle cx="409.8" cy="146.1" r="2.25"/><circle cx="392.9" cy="158.5" r="2.25"/><circle cx="408.9" cy="144.2" r="2.25"/><circle cx="382.9" cy="149.4" r="2.25"/><circle cx="405.7" cy="146.7" r="2.25"/><circle cx="403.8" cy="142.3" r="2.25"/><circle cx="405.6" cy="137.5" r="2.25"/><circle cx="396.5" cy="141.5" r="2.25"/><circle cx="385.7" cy="162.3" r="2.25"/><circle cx="390.1" cy="158.0" r="2.25"/><circle cx="398.0" cy="142.0" r="2.25"/><circle cx="405.6" cy="140.7" r="2.25"/><circle cx="386.7" cy="154.2" r="2.25"/><circle cx="410.9" cy="139.8" r="2.25"/><circle cx="405.0" cy="143.2" r="2.25"/><circle cx="389.6" cy="159.8" r="2.25"/><circle cx="401.4" cy="147.5" r="2.25"/><circle cx="407.7" cy="147.9" r="2.25"/><circle cx="390.7" cy="149.0" r="2.25"/><circle cx="393.0" cy="153.3" r="2.25"/><circle cx="403.5" cy="139.9" r="2.25"/><circle cx="378.3" cy="155.2" r="2.25"/><circle cx="409.1" cy="139.8" r="2.25"/><circle cx="379.6" cy="167.5" r="2.25"/><circle cx="382.1" cy="156.2" r="2.25"/><circle cx="396.1" cy="150.8" r="2.25"/><circle cx="403.6" cy="146.9" r="2.25"/><circle cx="385.4" cy="148.1" r="2.25"/><circle cx="400.9" cy="138.5" r="2.25"/><circle cx="387.8" cy="155.6" r="2.25"/><circle cx="402.5" cy="150.4" r="2.25"/><circle cx="397.8" cy="148.7" r="2.25"/><circle cx="385.2" cy="162.2" r="2.25"/><circle cx="394.9" cy="146.1" r="2.25"/><circle cx="407.4" cy="137.0" r="2.25"/><circle cx="396.6" cy="140.3" r="2.25"/><circle cx="396.7" cy="154.1" r="2.25"/><circle cx="382.8" cy="152.8" r="2.25"/><circle cx="387.5" cy="146.1" r="2.25"/><circle cx="392.8" cy="144.8" r="2.25"/><circle cx="390.5" cy="145.8" r="2.25"/><circle cx="395.2" cy="143.4" r="2.25"/><circle cx="411.4" cy="140.6" r="2.25"/><circle cx="408.4" cy="138.7" r="2.25"/><circle cx="387.5" cy="163.1" r="2.25"/><circle cx="396.2" cy="148.9" r="2.25"/><circle cx="390.8" cy="161.9" r="2.25"/><circle cx="382.7" cy="165.1" r="2.25"/><circle cx="394.7" cy="148.6" r="2.25"/><circle cx="384.1" cy="163.4" r="2.25"/><circle cx="402.9" cy="130.9" r="2.25"/><circle cx="406.4" cy="125.9" r="2.25"/><circle cx="401.5" cy="131.5" r="2.25"/><circle cx="395.1" cy="134.2" r="2.25"/><circle cx="399.6" cy="124.3" r="2.25"/><circle cx="407.2" cy="132.5" r="2.25"/><circle cx="399.6" cy="128.1" r="2.25"/><circle cx="407.6" cy="121.0" r="2.25"/><circle cx="396.0" cy="135.2" r="2.25"/><circle cx="404.9" cy="135.7" r="2.25"/><circle cx="403.3" cy="136.4" r="2.25"/><circle cx="401.1" cy="129.5" r="2.25"/><circle cx="394.8" cy="132.1" r="2.25"/><circle cx="409.5" cy="123.7" r="2.25"/><circle cx="409.8" cy="127.1" r="2.25"/><circle cx="409.4" cy="119.1" r="2.25"/><circle cx="408.5" cy="126.8" r="2.25"/><circle cx="407.2" cy="118.4" r="2.25"/><circle cx="407.4" cy="125.2" r="2.25"/><circle cx="395.2" cy="130.2" r="2.25"/><circle cx="398.6" cy="132.5" r="2.25"/><circle cx="400.3" cy="135.6" r="2.25"/><circle cx="400.1" cy="125.8" r="2.25"/><circle cx="394.4" cy="130.3" r="2.25"/><circle cx="400.9" cy="127.9" r="2.25"/><circle cx="405.4" cy="119.3" r="2.25"/><circle cx="408.8" cy="135.9" r="2.25"/><circle cx="403.1" cy="124.3" r="2.25"/><circle cx="403.2" cy="122.0" r="2.25"/><circle cx="403.4" cy="132.1" r="2.25"/><circle cx="407.9" cy="131.7" r="2.25"/><circle cx="415.5" cy="139.4" r="2.25"/><circle cx="419.3" cy="137.9" r="2.25"/><circle cx="414.9" cy="144.3" r="2.25"/><circle cx="484.1" cy="69.8" r="2.25"/><circle cx="464.7" cy="58.3" r="2.25"/><circle cx="468.0" cy="69.2" r="2.25"/><circle cx="454.9" cy="62.5" r="2.25"/><circle cx="479.5" cy="71.7" r="2.25"/><circle cx="492.2" cy="70.5" r="2.25"/><circle cx="469.7" cy="59.3" r="2.25"/><circle cx="477.3" cy="61.4" r="2.25"/><circle cx="491.9" cy="60.2" r="2.25"/><circle cx="486.6" cy="74.2" r="2.25"/><circle cx="470.2" cy="64.9" r="2.25"/><circle cx="467.7" cy="61.8" r="2.25"/><circle cx="459.4" cy="61.1" r="2.25"/><circle cx="472.6" cy="54.6" r="2.25"/><circle cx="478.5" cy="74.6" r="2.25"/><circle cx="462.7" cy="66.1" r="2.25"/><circle cx="483.4" cy="65.7" r="2.25"/><circle cx="474.5" cy="67.9" r="2.25"/><circle cx="487.0" cy="70.0" r="2.25"/><circle cx="468.0" cy="56.1" r="2.25"/><circle cx="480.0" cy="58.5" r="2.25"/><circle cx="469.0" cy="70.4" r="2.25"/><circle cx="474.2" cy="59.3" r="2.25"/><circle cx="467.3" cy="72.0" r="2.25"/><circle cx="457.1" cy="63.4" r="2.25"/><circle cx="484.3" cy="63.0" r="2.25"/><circle cx="477.6" cy="64.8" r="2.25"/><circle cx="467.2" cy="64.5" r="2.25"/><circle cx="483.0" cy="68.4" r="2.25"/><circle cx="470.9" cy="62.0" r="2.25"/><circle cx="471.8" cy="67.6" r="2.25"/><circle cx="493.2" cy="55.2" r="2.25"/><circle cx="491.6" cy="67.4" r="2.25"/><circle cx="478.2" cy="75.1" r="2.25"/><circle cx="459.5" cy="64.9" r="2.25"/><circle cx="489.2" cy="66.2" r="2.25"/><circle cx="470.5" cy="54.9" r="2.25"/><circle cx="470.7" cy="71.8" r="2.25"/><circle cx="471.0" cy="65.8" r="2.25"/><circle cx="485.7" cy="67.3" r="2.25"/><circle cx="474.8" cy="70.4" r="2.25"/><circle cx="478.7" cy="53.5" r="2.25"/><circle cx="481.0" cy="71.4" r="2.25"/><circle cx="467.2" cy="62.9" r="2.25"/><circle cx="476.7" cy="68.9" r="2.25"/><circle cx="465.3" cy="63.4" r="2.25"/><circle cx="480.1" cy="65.1" r="2.25"/><circle cx="472.5" cy="62.2" r="2.25"/><circle cx="474.1" cy="53.6" r="2.25"/><circle cx="462.7" cy="63.5" r="2.25"/><circle cx="490.4" cy="56.4" r="2.25"/><circle cx="442.1" cy="75.8" r="2.25"/><circle cx="446.0" cy="76.8" r="2.25"/><circle cx="449.8" cy="78.7" r="2.25"/><circle cx="454.7" cy="74.9" r="2.25"/><circle cx="458.6" cy="73.9" r="2.25"/><circle cx="462.5" cy="72.9" r="2.25"/><circle cx="466.3" cy="72.0" r="2.25"/><circle cx="424.6" cy="83.2" r="2.25"/><circle cx="429.4" cy="82.6" r="2.25"/><circle cx="435.3" cy="82.0" r="2.25"/><circle cx="439.2" cy="83.6" r="2.25"/><circle cx="447.9" cy="100.1" r="2.25"/><circle cx="445.0" cy="99.1" r="2.25"/><circle cx="440.1" cy="104.0" r="2.25"/><circle cx="436.2" cy="106.9" r="2.25"/><circle cx="432.4" cy="114.7" r="2.25"/><circle cx="438.2" cy="110.8" r="2.25"/><circle cx="430.4" cy="110.8" r="2.25"/><circle cx="429.9" cy="126.8" r="2.25"/><circle cx="428.6" cy="134.9" r="2.25"/><circle cx="422.5" cy="135.6" r="2.25"/><circle cx="423.6" cy="134.2" r="2.25"/><circle cx="427.9" cy="130.9" r="2.25"/><circle cx="420.9" cy="128.7" r="2.25"/><circle cx="432.4" cy="129.1" r="2.25"/><circle cx="425.7" cy="124.9" r="2.25"/><circle cx="434.0" cy="131.6" r="2.25"/><circle cx="438.3" cy="127.3" r="2.25"/><circle cx="424.6" cy="132.0" r="2.25"/><circle cx="422.4" cy="127.8" r="2.25"/><circle cx="426.5" cy="129.8" r="2.25"/><circle cx="431.3" cy="128.2" r="2.25"/><circle cx="426.3" cy="132.3" r="2.25"/><circle cx="427.5" cy="124.6" r="2.25"/><circle cx="438.1" cy="131.5" r="2.25"/><circle cx="433.7" cy="128.6" r="2.25"/><circle cx="426.0" cy="126.8" r="2.25"/><circle cx="435.7" cy="130.9" r="2.25"/><circle cx="426.0" cy="130.2" r="2.25"/><circle cx="439.4" cy="105.3" r="2.25"/><circle cx="448.8" cy="100.3" r="2.25"/><circle cx="434.6" cy="110.8" r="2.25"/><circle cx="433.2" cy="116.8" r="2.25"/><circle cx="445.5" cy="102.0" r="2.25"/><circle cx="441.4" cy="104.4" r="2.25"/><circle cx="441.4" cy="109.6" r="2.25"/><circle cx="433.9" cy="114.4" r="2.25"/><circle cx="448.8" cy="104.1" r="2.25"/><circle cx="436.2" cy="118.3" r="2.25"/><circle cx="436.5" cy="109.4" r="2.25"/><circle cx="437.0" cy="104.3" r="2.25"/><circle cx="440.9" cy="113.5" r="2.25"/><circle cx="434.2" cy="112.5" r="2.25"/></g>
<g stroke="#0776C4"><circle cx="353.8" cy="145.7" r="2.25"/><circle cx="350.9" cy="148.7" r="2.25"/><circle cx="351.9" cy="152.5" r="2.25"/><circle cx="353.8" cy="156.4" r="2.25"/><circle cx="355.7" cy="159.3" r="2.25"/><circle cx="359.6" cy="161.3" r="2.25"/><circle cx="363.5" cy="151.6" r="2.25"/><circle cx="361.6" cy="144.8" r="2.25"/><circle cx="365.5" cy="140.9" r="2.25"/><circle cx="372.3" cy="139.9" r="2.25"/><circle cx="379.0" cy="140.9" r="2.25"/><circle cx="380.0" cy="138.6" r="2.25"/><circle cx="349.0" cy="153.5" r="2.25"/><circle cx="352.8" cy="150.6" r="2.25"/><circle cx="354.8" cy="147.7" r="2.25"/><circle cx="357.7" cy="157.4" r="2.25"/><circle cx="352.3" cy="146.7" r="2.25"/><circle cx="353.4" cy="154.1" r="2.25"/><circle cx="355.2" cy="149.0" r="2.25"/><circle cx="394.5" cy="131.3" r="2.25"/><circle cx="383.9" cy="133.9" r="2.25"/><circle cx="386.9" cy="129.4" r="2.25"/><circle cx="389.1" cy="132.7" r="2.25"/><circle cx="397.1" cy="131.4" r="2.25"/><circle cx="389.2" cy="130.9" r="2.25"/><circle cx="392.9" cy="133.3" r="2.25"/><circle cx="395.3" cy="133.0" r="2.25"/><circle cx="396.3" cy="127.6" r="2.25"/><circle cx="388.8" cy="133.8" r="2.25"/><circle cx="389.1" cy="128.2" r="2.25"/><circle cx="391.8" cy="128.9" r="2.25"/><circle cx="391.0" cy="133.1" r="2.25"/><circle cx="386.4" cy="133.3" r="2.25"/><circle cx="383.6" cy="131.9" r="2.25"/><circle cx="396.0" cy="130.4" r="2.25"/><circle cx="381.3" cy="132.9" r="2.25"/><circle cx="381.7" cy="131.3" r="2.25"/><circle cx="390.4" cy="128.2" r="2.25"/><circle cx="365.9" cy="139.4" r="2.25"/><circle cx="370.8" cy="138.5" r="2.25"/><circle cx="373.7" cy="141.4" r="2.25"/><circle cx="365.0" cy="143.3" r="2.25"/><circle cx="368.9" cy="142.3" r="2.25"/><circle cx="404.7" cy="125.5" r="2.25"/><circle cx="397.3" cy="126.5" r="2.25"/><circle cx="400.8" cy="119.4" r="2.25"/><circle cx="399.8" cy="127.2" r="2.25"/><circle cx="397.2" cy="122.9" r="2.25"/><circle cx="405.9" cy="122.0" r="2.25"/><circle cx="403.0" cy="123.4" r="2.25"/><circle cx="398.8" cy="128.9" r="2.25"/><circle cx="399.5" cy="130.1" r="2.25"/><circle cx="400.8" cy="125.8" r="2.25"/><circle cx="397.0" cy="131.1" r="2.25"/><circle cx="394.9" cy="125.9" r="2.25"/><circle cx="415.1" cy="111.2" r="2.25"/><circle cx="412.4" cy="110.3" r="2.25"/><circle cx="418.2" cy="111.0" r="2.25"/><circle cx="418.3" cy="103.7" r="2.25"/><circle cx="419.7" cy="105.7" r="2.25"/><circle cx="419.9" cy="106.9" r="2.25"/><circle cx="409.3" cy="104.0" r="2.25"/><circle cx="416.2" cy="102.0" r="2.25"/><circle cx="414.0" cy="107.7" r="2.25"/><circle cx="415.3" cy="113.0" r="2.25"/><circle cx="410.0" cy="107.7" r="2.25"/><circle cx="415.8" cy="105.5" r="2.25"/><circle cx="433.0" cy="90.5" r="2.25"/><circle cx="430.3" cy="98.9" r="2.25"/><circle cx="438.4" cy="90.5" r="2.25"/><circle cx="426.6" cy="97.1" r="2.25"/><circle cx="429.9" cy="92.9" r="2.25"/><circle cx="428.8" cy="90.8" r="2.25"/><circle cx="422.6" cy="89.8" r="2.25"/><circle cx="432.9" cy="94.2" r="2.25"/><circle cx="432.3" cy="88.0" r="2.25"/><circle cx="436.1" cy="93.6" r="2.25"/><circle cx="437.4" cy="88.1" r="2.25"/><circle cx="425.5" cy="93.3" r="2.25"/><circle cx="432.2" cy="92.3" r="2.25"/><circle cx="430.5" cy="96.5" r="2.25"/><circle cx="431.2" cy="91.2" r="2.25"/><circle cx="426.7" cy="87.4" r="2.25"/><circle cx="431.3" cy="97.3" r="2.25"/><circle cx="434.4" cy="97.4" r="2.25"/><circle cx="437.3" cy="93.9" r="2.25"/><circle cx="424.0" cy="90.7" r="2.25"/><circle cx="434.5" cy="89.9" r="2.25"/><circle cx="431.8" cy="95.8" r="2.25"/><circle cx="432.4" cy="97.6" r="2.25"/><circle cx="427.5" cy="92.3" r="2.25"/><circle cx="436.6" cy="91.1" r="2.25"/><circle cx="426.2" cy="91.0" r="2.25"/><circle cx="427.1" cy="97.8" r="2.25"/><circle cx="438.3" cy="88.7" r="2.25"/><circle cx="422.5" cy="88.1" r="2.25"/><circle cx="428.6" cy="98.2" r="2.25"/><circle cx="430.4" cy="94.9" r="2.25"/><circle cx="425.9" cy="87.1" r="2.25"/><circle cx="425.8" cy="97.1" r="2.25"/><circle cx="431.9" cy="96.7" r="2.25"/><circle cx="436.7" cy="90.5" r="2.25"/><circle cx="416.9" cy="111.3" r="2.25"/><circle cx="411.1" cy="103.7" r="2.25"/><circle cx="423.5" cy="103.3" r="2.25"/><circle cx="416.0" cy="102.4" r="2.25"/><circle cx="420.6" cy="110.1" r="2.25"/><circle cx="414.8" cy="108.6" r="2.25"/><circle cx="417.5" cy="100.4" r="2.25"/><circle cx="412.0" cy="110.4" r="2.25"/><circle cx="414.3" cy="101.1" r="2.25"/><circle cx="419.0" cy="104.6" r="2.25"/></g></g>
<rect x="315.0" y="37.5" width="194.5" height="198.0" fill="none" stroke="#333333" stroke-width="1.2"/>
<path d="M334.4 235.5v-2.4M334.4 37.5v2.4M315.0 215.7h2.4M509.5 215.7h-2.4M373.4 235.5v-2.4M373.4 37.5v2.4M315.0 176.1h2.4M509.5 176.1h-2.4M412.2 235.5v-2.4M412.2 37.5v2.4M315.0 136.5h2.4M509.5 136.5h-2.4M451.1 235.5v-2.4M451.1 37.5v2.4M315.0 96.9h2.4M509.5 96.9h-2.4M490.0 235.5v-2.4M490.0 37.5v2.4M315.0 57.3h2.4M509.5 57.3h-2.4" stroke="#333333" stroke-width="1.1" fill="none"/>
<text x="334.4" y="262.2" text-anchor="middle" font-size="19">2</text>
<text x="308.2" y="222.6" text-anchor="end" font-size="19">2</text>
<text x="373.4" y="262.2" text-anchor="middle" font-size="19">4</text>
<text x="308.2" y="183.0" text-anchor="end" font-size="19">4</text>
<text x="412.2" y="262.2" text-anchor="middle" font-size="19">6</text>
<text x="308.2" y="143.4" text-anchor="end" font-size="19">6</text>
<text x="451.1" y="262.2" text-anchor="middle" font-size="19">8</text>
<text x="308.2" y="103.8" text-anchor="end" font-size="19">8</text>
<text x="490.0" y="262.2" text-anchor="middle" font-size="19">10</text>
<text x="308.2" y="64.2" text-anchor="end" font-size="19">10</text>
<text x="334.7" y="64.5" font-size="19.7">(b)</text>
<text x="412.3" y="202.4" font-size="16">ME: 0.88 m</text>
<text x="412.3" y="222.3" font-size="16">Corr: 0.94</text></g>
<g id="panel-c"><line x1="58.3" y1="487.7" x2="253.0" y2="289.3" stroke="#000" stroke-width="1.7"/>
<g fill="none" stroke-width="1.35"><g stroke="#62AD24"><circle cx="81.7" cy="435.2" r="2.25"/><circle cx="79.8" cy="426.3" r="2.25"/><circle cx="106.6" cy="404.8" r="2.25"/><circle cx="97.2" cy="424.0" r="2.25"/><circle cx="89.6" cy="423.2" r="2.25"/><circle cx="90.9" cy="427.2" r="2.25"/><circle cx="87.1" cy="428.9" r="2.25"/><circle cx="104.4" cy="408.7" r="2.25"/><circle cx="91.6" cy="414.1" r="2.25"/><circle cx="78.1" cy="430.5" r="2.25"/><circle cx="97.0" cy="421.5" r="2.25"/><circle cx="80.3" cy="425.5" r="2.25"/><circle cx="97.7" cy="407.2" r="2.25"/><circle cx="91.0" cy="423.5" r="2.25"/><circle cx="93.7" cy="424.3" r="2.25"/><circle cx="106.2" cy="402.8" r="2.25"/><circle cx="102.4" cy="401.9" r="2.25"/><circle cx="93.5" cy="408.9" r="2.25"/><circle cx="91.4" cy="419.3" r="2.25"/><circle cx="90.0" cy="425.2" r="2.25"/><circle cx="100.2" cy="406.6" r="2.25"/><circle cx="80.4" cy="432.4" r="2.25"/><circle cx="80.6" cy="428.6" r="2.25"/><circle cx="83.3" cy="432.5" r="2.25"/><circle cx="105.2" cy="405.9" r="2.25"/><circle cx="83.7" cy="427.3" r="2.25"/><circle cx="86.4" cy="424.6" r="2.25"/><circle cx="90.5" cy="429.7" r="2.25"/><circle cx="85.4" cy="432.6" r="2.25"/><circle cx="93.0" cy="420.0" r="2.25"/><circle cx="103.1" cy="402.8" r="2.25"/><circle cx="77.8" cy="436.2" r="2.25"/><circle cx="85.7" cy="428.8" r="2.25"/><circle cx="92.0" cy="412.5" r="2.25"/><circle cx="82.2" cy="428.2" r="2.25"/><circle cx="102.4" cy="409.4" r="2.25"/><circle cx="81.6" cy="438.5" r="2.25"/><circle cx="88.5" cy="427.4" r="2.25"/><circle cx="86.8" cy="427.0" r="2.25"/><circle cx="93.3" cy="419.4" r="2.25"/><circle cx="85.2" cy="424.6" r="2.25"/><circle cx="107.6" cy="403.7" r="2.25"/><circle cx="93.8" cy="410.8" r="2.25"/><circle cx="83.6" cy="424.1" r="2.25"/><circle cx="88.9" cy="424.6" r="2.25"/><circle cx="93.7" cy="417.7" r="2.25"/><circle cx="80.9" cy="430.2" r="2.25"/><circle cx="97.9" cy="407.9" r="2.25"/><circle cx="90.8" cy="417.5" r="2.25"/><circle cx="99.0" cy="406.5" r="2.25"/><circle cx="97.8" cy="408.4" r="2.25"/><circle cx="92.2" cy="418.4" r="2.25"/><circle cx="80.0" cy="433.8" r="2.25"/><circle cx="94.8" cy="406.2" r="2.25"/><circle cx="87.5" cy="426.5" r="2.25"/><circle cx="101.7" cy="404.4" r="2.25"/><circle cx="98.5" cy="422.5" r="2.25"/><circle cx="99.6" cy="404.4" r="2.25"/><circle cx="95.8" cy="408.3" r="2.25"/><circle cx="102.7" cy="406.8" r="2.25"/><circle cx="99.3" cy="407.9" r="2.25"/><circle cx="92.0" cy="422.1" r="2.25"/><circle cx="83.6" cy="434.6" r="2.25"/><circle cx="96.3" cy="421.6" r="2.25"/><circle cx="99.9" cy="407.1" r="2.25"/><circle cx="81.4" cy="437.1" r="2.25"/><circle cx="89.1" cy="429.8" r="2.25"/><circle cx="94.1" cy="421.0" r="2.25"/><circle cx="102.7" cy="402.7" r="2.25"/><circle cx="83.6" cy="426.9" r="2.25"/><circle cx="84.5" cy="430.9" r="2.25"/><circle cx="94.5" cy="422.3" r="2.25"/><circle cx="84.8" cy="427.3" r="2.25"/><circle cx="90.2" cy="426.4" r="2.25"/><circle cx="94.1" cy="406.5" r="2.25"/><circle cx="79.9" cy="429.5" r="2.25"/><circle cx="92.5" cy="410.9" r="2.25"/><circle cx="80.4" cy="437.7" r="2.25"/><circle cx="108.9" cy="402.3" r="2.25"/><circle cx="81.8" cy="424.4" r="2.25"/><circle cx="89.6" cy="423.1" r="2.25"/><circle cx="87.0" cy="429.1" r="2.25"/><circle cx="92.3" cy="426.0" r="2.25"/><circle cx="79.4" cy="436.1" r="2.25"/><circle cx="93.7" cy="427.3" r="2.25"/><circle cx="81.5" cy="433.8" r="2.25"/><circle cx="97.5" cy="424.2" r="2.25"/><circle cx="79.1" cy="433.0" r="2.25"/><circle cx="97.6" cy="405.6" r="2.25"/><circle cx="91.3" cy="428.8" r="2.25"/><circle cx="112.4" cy="394.8" r="2.25"/><circle cx="116.3" cy="390.0" r="2.25"/><circle cx="120.1" cy="391.9" r="2.25"/><circle cx="119.2" cy="396.8" r="2.25"/><circle cx="109.5" cy="401.6" r="2.25"/><circle cx="126.3" cy="435.2" r="2.25"/><circle cx="128.9" cy="418.1" r="2.25"/><circle cx="131.8" cy="420.1" r="2.25"/><circle cx="133.7" cy="424.0" r="2.25"/><circle cx="139.6" cy="416.2" r="2.25"/><circle cx="143.4" cy="414.2" r="2.25"/><circle cx="144.4" cy="409.4" r="2.25"/><circle cx="115.9" cy="433.3" r="2.25"/><circle cx="104.2" cy="444.6" r="2.25"/><circle cx="111.1" cy="436.6" r="2.25"/><circle cx="120.8" cy="433.0" r="2.25"/><circle cx="110.8" cy="439.9" r="2.25"/><circle cx="116.6" cy="435.9" r="2.25"/><circle cx="108.5" cy="440.9" r="2.25"/><circle cx="113.8" cy="438.5" r="2.25"/><circle cx="107.3" cy="442.4" r="2.25"/><circle cx="123.6" cy="428.4" r="2.25"/><circle cx="121.7" cy="431.0" r="2.25"/><circle cx="122.2" cy="429.2" r="2.25"/><circle cx="107.3" cy="443.6" r="2.25"/><circle cx="116.5" cy="439.1" r="2.25"/><circle cx="105.3" cy="441.1" r="2.25"/><circle cx="117.9" cy="437.6" r="2.25"/><circle cx="124.6" cy="430.3" r="2.25"/><circle cx="110.3" cy="435.2" r="2.25"/><circle cx="112.5" cy="434.6" r="2.25"/><circle cx="119.4" cy="436.2" r="2.25"/><circle cx="115.2" cy="436.5" r="2.25"/><circle cx="110.0" cy="437.6" r="2.25"/><circle cx="109.0" cy="438.1" r="2.25"/><circle cx="111.1" cy="438.2" r="2.25"/><circle cx="117.0" cy="437.8" r="2.25"/><circle cx="105.8" cy="442.0" r="2.25"/><circle cx="104.6" cy="444.5" r="2.25"/><circle cx="143.0" cy="371.3" r="2.25"/><circle cx="134.5" cy="369.5" r="2.25"/><circle cx="136.7" cy="370.3" r="2.25"/><circle cx="132.6" cy="373.6" r="2.25"/><circle cx="142.1" cy="369.8" r="2.25"/><circle cx="144.8" cy="370.6" r="2.25"/><circle cx="131.8" cy="373.2" r="2.25"/><circle cx="133.2" cy="374.0" r="2.25"/><circle cx="135.5" cy="369.4" r="2.25"/><circle cx="134.7" cy="373.9" r="2.25"/><circle cx="135.7" cy="373.5" r="2.25"/><circle cx="132.4" cy="371.4" r="2.25"/><circle cx="146.1" cy="369.6" r="2.25"/><circle cx="139.4" cy="369.1" r="2.25"/><circle cx="141.4" cy="371.2" r="2.25"/><circle cx="132.6" cy="374.5" r="2.25"/><circle cx="135.6" cy="370.6" r="2.25"/><circle cx="131.9" cy="374.2" r="2.25"/><circle cx="139.0" cy="372.3" r="2.25"/><circle cx="135.2" cy="372.2" r="2.25"/><circle cx="147.2" cy="368.6" r="2.25"/><circle cx="143.0" cy="368.6" r="2.25"/><circle cx="116.7" cy="386.6" r="2.25"/><circle cx="119.7" cy="386.2" r="2.25"/><circle cx="159.5" cy="396.3" r="2.25"/><circle cx="163.3" cy="398.2" r="2.25"/><circle cx="166.3" cy="395.7" r="2.25"/><circle cx="191.5" cy="358.3" r="2.25"/><circle cx="188.1" cy="362.1" r="2.25"/><circle cx="185.9" cy="366.2" r="2.25"/><circle cx="188.8" cy="358.3" r="2.25"/><circle cx="188.3" cy="365.6" r="2.25"/><circle cx="192.0" cy="359.0" r="2.25"/><circle cx="193.2" cy="358.5" r="2.25"/><circle cx="190.8" cy="362.9" r="2.25"/><circle cx="189.5" cy="364.3" r="2.25"/><circle cx="188.4" cy="359.5" r="2.25"/></g>
<g stroke="#FDAE05"><circle cx="105.3" cy="426.1" r="2.25"/><circle cx="89.1" cy="437.6" r="2.25"/><circle cx="119.7" cy="418.0" r="2.25"/><circle cx="77.6" cy="450.4" r="2.25"/><circle cx="113.3" cy="427.2" r="2.25"/><circle cx="109.3" cy="424.9" r="2.25"/><circle cx="80.2" cy="443.2" r="2.25"/><circle cx="84.2" cy="450.9" r="2.25"/><circle cx="70.6" cy="448.0" r="2.25"/><circle cx="87.3" cy="448.7" r="2.25"/><circle cx="119.5" cy="423.4" r="2.25"/><circle cx="92.4" cy="439.5" r="2.25"/><circle cx="94.4" cy="446.6" r="2.25"/><circle cx="100.7" cy="429.1" r="2.25"/><circle cx="87.8" cy="443.7" r="2.25"/><circle cx="99.4" cy="435.5" r="2.25"/><circle cx="81.1" cy="448.8" r="2.25"/><circle cx="115.1" cy="420.7" r="2.25"/><circle cx="103.5" cy="434.7" r="2.25"/><circle cx="93.6" cy="432.7" r="2.25"/><circle cx="90.8" cy="450.0" r="2.25"/><circle cx="114.6" cy="424.0" r="2.25"/><circle cx="88.0" cy="441.9" r="2.25"/><circle cx="117.2" cy="421.5" r="2.25"/><circle cx="91.6" cy="444.5" r="2.25"/><circle cx="85.9" cy="443.5" r="2.25"/><circle cx="111.5" cy="420.5" r="2.25"/><circle cx="123.1" cy="418.8" r="2.25"/><circle cx="89.8" cy="434.0" r="2.25"/><circle cx="82.0" cy="442.9" r="2.25"/><circle cx="105.7" cy="435.1" r="2.25"/><circle cx="106.9" cy="425.8" r="2.25"/><circle cx="103.7" cy="427.0" r="2.25"/><circle cx="101.1" cy="427.8" r="2.25"/><circle cx="75.3" cy="448.4" r="2.25"/><circle cx="103.6" cy="430.5" r="2.25"/><circle cx="80.1" cy="451.4" r="2.25"/><circle cx="84.8" cy="446.8" r="2.25"/><circle cx="104.7" cy="426.5" r="2.25"/><circle cx="85.4" cy="439.2" r="2.25"/><circle cx="75.6" cy="450.2" r="2.25"/><circle cx="109.0" cy="431.9" r="2.25"/><circle cx="75.6" cy="451.4" r="2.25"/><circle cx="117.4" cy="417.5" r="2.25"/><circle cx="112.6" cy="424.7" r="2.25"/><circle cx="89.4" cy="450.5" r="2.25"/><circle cx="93.6" cy="436.9" r="2.25"/><circle cx="116.8" cy="426.7" r="2.25"/><circle cx="74.0" cy="448.8" r="2.25"/><circle cx="102.4" cy="437.0" r="2.25"/><circle cx="94.4" cy="439.2" r="2.25"/><circle cx="114.0" cy="421.7" r="2.25"/><circle cx="72.1" cy="449.8" r="2.25"/><circle cx="98.6" cy="430.4" r="2.25"/><circle cx="121.9" cy="415.9" r="2.25"/><circle cx="76.6" cy="446.4" r="2.25"/><circle cx="91.1" cy="442.2" r="2.25"/><circle cx="117.8" cy="423.7" r="2.25"/><circle cx="113.3" cy="419.4" r="2.25"/><circle cx="97.3" cy="431.7" r="2.25"/><circle cx="100.9" cy="440.4" r="2.25"/><circle cx="89.7" cy="446.8" r="2.25"/><circle cx="95.4" cy="442.8" r="2.25"/><circle cx="79.0" cy="447.3" r="2.25"/><circle cx="109.6" cy="426.3" r="2.25"/><circle cx="69.5" cy="446.8" r="2.25"/><circle cx="102.8" cy="425.9" r="2.25"/><circle cx="82.5" cy="449.5" r="2.25"/><circle cx="112.0" cy="428.4" r="2.25"/><circle cx="100.1" cy="438.8" r="2.25"/><circle cx="99.5" cy="429.5" r="2.25"/><circle cx="85.5" cy="451.0" r="2.25"/><circle cx="104.2" cy="427.8" r="2.25"/><circle cx="97.4" cy="437.1" r="2.25"/><circle cx="114.1" cy="427.9" r="2.25"/><circle cx="113.3" cy="430.2" r="2.25"/><circle cx="105.1" cy="434.1" r="2.25"/><circle cx="94.6" cy="442.3" r="2.25"/><circle cx="82.5" cy="447.1" r="2.25"/><circle cx="92.9" cy="435.6" r="2.25"/><circle cx="83.1" cy="450.9" r="2.25"/><circle cx="114.8" cy="419.8" r="2.25"/><circle cx="93.7" cy="440.1" r="2.25"/><circle cx="98.2" cy="442.0" r="2.25"/><circle cx="94.9" cy="433.8" r="2.25"/><circle cx="116.0" cy="424.7" r="2.25"/><circle cx="109.1" cy="422.4" r="2.25"/><circle cx="97.2" cy="434.4" r="2.25"/><circle cx="79.1" cy="444.4" r="2.25"/><circle cx="85.9" cy="448.4" r="2.25"/><circle cx="96.8" cy="434.1" r="2.25"/><circle cx="107.0" cy="428.1" r="2.25"/><circle cx="108.9" cy="428.4" r="2.25"/><circle cx="91.3" cy="440.8" r="2.25"/><circle cx="76.6" cy="447.5" r="2.25"/><circle cx="94.0" cy="445.2" r="2.25"/><circle cx="104.9" cy="435.9" r="2.25"/><circle cx="117.7" cy="425.1" r="2.25"/><circle cx="95.0" cy="432.6" r="2.25"/><circle cx="103.1" cy="429.8" r="2.25"/><circle cx="108.7" cy="429.9" r="2.25"/><circle cx="88.1" cy="437.3" r="2.25"/><circle cx="124.6" cy="418.5" r="2.25"/><circle cx="106.8" cy="432.4" r="2.25"/><circle cx="118.8" cy="421.9" r="2.25"/><circle cx="114.1" cy="420.4" r="2.25"/><circle cx="70.3" cy="448.5" r="2.25"/><circle cx="121.0" cy="420.8" r="2.25"/><circle cx="106.9" cy="426.4" r="2.25"/><circle cx="99.8" cy="433.1" r="2.25"/><circle cx="116.2" cy="420.6" r="2.25"/><circle cx="94.5" cy="437.6" r="2.25"/><circle cx="82.4" cy="444.0" r="2.25"/><circle cx="92.4" cy="446.4" r="2.25"/><circle cx="92.4" cy="433.8" r="2.25"/><circle cx="97.0" cy="442.3" r="2.25"/><circle cx="113.7" cy="425.5" r="2.25"/><circle cx="113.7" cy="427.2" r="2.25"/><circle cx="85.5" cy="443.8" r="2.25"/><circle cx="84.0" cy="440.8" r="2.25"/><circle cx="88.4" cy="439.3" r="2.25"/><circle cx="81.7" cy="442.6" r="2.25"/><circle cx="120.8" cy="414.7" r="2.25"/><circle cx="112.1" cy="422.3" r="2.25"/><circle cx="90.5" cy="433.5" r="2.25"/><circle cx="107.4" cy="429.0" r="2.25"/><circle cx="108.8" cy="426.7" r="2.25"/><circle cx="76.9" cy="444.5" r="2.25"/><circle cx="95.5" cy="439.3" r="2.25"/><circle cx="98.9" cy="440.6" r="2.25"/><circle cx="116.0" cy="420.3" r="2.25"/><circle cx="104.4" cy="426.0" r="2.25"/><circle cx="85.8" cy="439.4" r="2.25"/><circle cx="102.4" cy="428.4" r="2.25"/><circle cx="102.6" cy="433.5" r="2.25"/><circle cx="95.2" cy="443.3" r="2.25"/><circle cx="92.9" cy="449.2" r="2.25"/><circle cx="88.4" cy="446.6" r="2.25"/><circle cx="80.4" cy="449.7" r="2.25"/><circle cx="111.0" cy="427.9" r="2.25"/><circle cx="122.5" cy="418.9" r="2.25"/><circle cx="101.7" cy="438.2" r="2.25"/><circle cx="88.8" cy="445.7" r="2.25"/><circle cx="121.7" cy="417.4" r="2.25"/><circle cx="91.5" cy="435.6" r="2.25"/><circle cx="114.9" cy="426.7" r="2.25"/><circle cx="94.8" cy="442.1" r="2.25"/><circle cx="93.2" cy="434.4" r="2.25"/><circle cx="96.0" cy="442.4" r="2.25"/><circle cx="122.5" cy="415.6" r="2.25"/><circle cx="105.3" cy="430.1" r="2.25"/><circle cx="98.4" cy="428.8" r="2.25"/><circle cx="113.9" cy="419.1" r="2.25"/><circle cx="85.8" cy="449.5" r="2.25"/><circle cx="81.3" cy="448.7" r="2.25"/><circle cx="114.9" cy="428.5" r="2.25"/><circle cx="94.2" cy="434.7" r="2.25"/><circle cx="92.4" cy="438.8" r="2.25"/><circle cx="99.3" cy="432.3" r="2.25"/><circle cx="101.5" cy="435.1" r="2.25"/><circle cx="87.2" cy="441.8" r="2.25"/><circle cx="87.8" cy="449.4" r="2.25"/><circle cx="84.6" cy="446.7" r="2.25"/><circle cx="75.8" cy="448.7" r="2.25"/><circle cx="119.4" cy="417.1" r="2.25"/><circle cx="82.5" cy="443.0" r="2.25"/><circle cx="118.9" cy="422.8" r="2.25"/><circle cx="101.8" cy="426.7" r="2.25"/><circle cx="97.3" cy="436.8" r="2.25"/><circle cx="116.8" cy="425.7" r="2.25"/><circle cx="79.8" cy="445.3" r="2.25"/><circle cx="118.3" cy="420.8" r="2.25"/><circle cx="108.5" cy="422.3" r="2.25"/><circle cx="104.8" cy="432.7" r="2.25"/><circle cx="83.9" cy="447.6" r="2.25"/><circle cx="98.7" cy="438.6" r="2.25"/><circle cx="102.4" cy="431.0" r="2.25"/><circle cx="95.2" cy="446.5" r="2.25"/><circle cx="89.6" cy="449.4" r="2.25"/><circle cx="100.8" cy="434.6" r="2.25"/><circle cx="118.7" cy="416.4" r="2.25"/><circle cx="88.3" cy="438.7" r="2.25"/><circle cx="109.5" cy="430.4" r="2.25"/><circle cx="113.3" cy="427.0" r="2.25"/><circle cx="120.8" cy="421.7" r="2.25"/><circle cx="89.4" cy="447.8" r="2.25"/><circle cx="82.1" cy="447.3" r="2.25"/><circle cx="114.0" cy="421.8" r="2.25"/><circle cx="80.8" cy="450.2" r="2.25"/><circle cx="93.2" cy="438.5" r="2.25"/><circle cx="85.8" cy="448.0" r="2.25"/><circle cx="83.3" cy="449.1" r="2.25"/><circle cx="98.9" cy="432.8" r="2.25"/><circle cx="119.4" cy="420.5" r="2.25"/><circle cx="92.2" cy="435.3" r="2.25"/><circle cx="88.2" cy="443.8" r="2.25"/><circle cx="124.6" cy="411.1" r="2.25"/><circle cx="146.4" cy="396.7" r="2.25"/><circle cx="140.6" cy="406.2" r="2.25"/><circle cx="138.3" cy="405.1" r="2.25"/><circle cx="143.9" cy="395.4" r="2.25"/><circle cx="126.8" cy="405.6" r="2.25"/><circle cx="130.3" cy="409.7" r="2.25"/><circle cx="152.9" cy="396.5" r="2.25"/><circle cx="148.8" cy="402.5" r="2.25"/><circle cx="133.8" cy="410.9" r="2.25"/><circle cx="133.7" cy="405.9" r="2.25"/><circle cx="145.6" cy="401.7" r="2.25"/><circle cx="135.1" cy="409.2" r="2.25"/><circle cx="133.4" cy="412.4" r="2.25"/><circle cx="149.0" cy="398.7" r="2.25"/><circle cx="135.1" cy="399.3" r="2.25"/><circle cx="128.3" cy="408.2" r="2.25"/><circle cx="141.3" cy="397.2" r="2.25"/><circle cx="154.7" cy="395.1" r="2.25"/><circle cx="130.6" cy="412.6" r="2.25"/><circle cx="130.0" cy="404.0" r="2.25"/><circle cx="149.8" cy="396.0" r="2.25"/><circle cx="152.0" cy="398.9" r="2.25"/><circle cx="139.9" cy="401.9" r="2.25"/><circle cx="134.0" cy="406.8" r="2.25"/><circle cx="141.8" cy="402.8" r="2.25"/><circle cx="130.0" cy="410.6" r="2.25"/><circle cx="154.8" cy="393.0" r="2.25"/><circle cx="128.9" cy="413.1" r="2.25"/><circle cx="149.4" cy="394.8" r="2.25"/><circle cx="132.5" cy="408.9" r="2.25"/><circle cx="141.0" cy="402.5" r="2.25"/><circle cx="135.7" cy="412.1" r="2.25"/><circle cx="134.8" cy="413.3" r="2.25"/><circle cx="125.8" cy="414.8" r="2.25"/><circle cx="132.1" cy="408.0" r="2.25"/><circle cx="140.7" cy="403.8" r="2.25"/><circle cx="128.5" cy="404.5" r="2.25"/><circle cx="124.9" cy="417.2" r="2.25"/><circle cx="143.4" cy="398.4" r="2.25"/><circle cx="123.5" cy="412.6" r="2.25"/><circle cx="131.1" cy="415.3" r="2.25"/><circle cx="128.7" cy="414.7" r="2.25"/><circle cx="135.9" cy="402.5" r="2.25"/><circle cx="143.6" cy="405.3" r="2.25"/><circle cx="127.8" cy="414.5" r="2.25"/><circle cx="149.7" cy="402.8" r="2.25"/><circle cx="138.2" cy="400.4" r="2.25"/><circle cx="124.8" cy="408.8" r="2.25"/><circle cx="151.0" cy="398.4" r="2.25"/><circle cx="142.9" cy="405.7" r="2.25"/><circle cx="134.0" cy="403.4" r="2.25"/><circle cx="136.0" cy="406.2" r="2.25"/><circle cx="138.2" cy="399.2" r="2.25"/><circle cx="140.9" cy="401.2" r="2.25"/><circle cx="148.5" cy="400.1" r="2.25"/><circle cx="153.7" cy="392.7" r="2.25"/><circle cx="149.7" cy="398.0" r="2.25"/><circle cx="155.5" cy="396.8" r="2.25"/><circle cx="124.4" cy="412.6" r="2.25"/><circle cx="130.4" cy="405.8" r="2.25"/><circle cx="137.4" cy="407.7" r="2.25"/><circle cx="140.4" cy="399.7" r="2.25"/><circle cx="139.4" cy="403.3" r="2.25"/><circle cx="147.8" cy="394.6" r="2.25"/><circle cx="135.6" cy="409.9" r="2.25"/><circle cx="126.7" cy="417.3" r="2.25"/><circle cx="145.7" cy="399.1" r="2.25"/><circle cx="123.4" cy="414.1" r="2.25"/><circle cx="126.1" cy="412.6" r="2.25"/><circle cx="125.1" cy="411.7" r="2.25"/><circle cx="137.0" cy="405.8" r="2.25"/><circle cx="129.9" cy="414.7" r="2.25"/><circle cx="125.4" cy="415.4" r="2.25"/><circle cx="136.8" cy="403.3" r="2.25"/><circle cx="125.2" cy="414.2" r="2.25"/><circle cx="133.7" cy="404.7" r="2.25"/><circle cx="153.3" cy="394.2" r="2.25"/><circle cx="129.1" cy="405.8" r="2.25"/><circle cx="135.2" cy="400.7" r="2.25"/><circle cx="151.2" cy="400.7" r="2.25"/><circle cx="147.9" cy="395.8" r="2.25"/><circle cx="147.4" cy="385.4" r="2.25"/><circle cx="151.9" cy="383.2" r="2.25"/><circle cx="149.4" cy="381.4" r="2.25"/><circle cx="141.5" cy="388.1" r="2.25"/><circle cx="145.1" cy="388.5" r="2.25"/><circle cx="147.1" cy="382.5" r="2.25"/><circle cx="153.3" cy="375.5" r="2.25"/><circle cx="153.6" cy="379.7" r="2.25"/><circle cx="146.5" cy="381.7" r="2.25"/><circle cx="152.3" cy="378.9" r="2.25"/><circle cx="149.5" cy="385.0" r="2.25"/><circle cx="152.4" cy="384.6" r="2.25"/><circle cx="151.6" cy="383.9" r="2.25"/><circle cx="146.0" cy="386.2" r="2.25"/><circle cx="225.0" cy="325.6" r="2.25"/><circle cx="211.6" cy="320.2" r="2.25"/><circle cx="236.5" cy="320.3" r="2.25"/><circle cx="212.9" cy="327.3" r="2.25"/><circle cx="221.6" cy="315.5" r="2.25"/><circle cx="234.5" cy="329.0" r="2.25"/><circle cx="215.4" cy="324.9" r="2.25"/><circle cx="202.7" cy="317.5" r="2.25"/><circle cx="219.0" cy="316.5" r="2.25"/><circle cx="213.4" cy="321.8" r="2.25"/><circle cx="230.9" cy="325.5" r="2.25"/><circle cx="221.2" cy="320.1" r="2.25"/><circle cx="214.6" cy="314.9" r="2.25"/><circle cx="221.0" cy="327.5" r="2.25"/><circle cx="223.2" cy="320.7" r="2.25"/><circle cx="215.8" cy="317.2" r="2.25"/><circle cx="226.6" cy="316.9" r="2.25"/><circle cx="237.2" cy="333.8" r="2.25"/><circle cx="231.9" cy="323.4" r="2.25"/><circle cx="223.7" cy="328.1" r="2.25"/><circle cx="232.9" cy="318.7" r="2.25"/><circle cx="223.9" cy="322.6" r="2.25"/><circle cx="209.6" cy="322.8" r="2.25"/><circle cx="230.8" cy="333.4" r="2.25"/><circle cx="233.9" cy="320.3" r="2.25"/><circle cx="225.3" cy="319.8" r="2.25"/><circle cx="208.2" cy="315.6" r="2.25"/><circle cx="222.6" cy="318.6" r="2.25"/><circle cx="213.6" cy="326.4" r="2.25"/><circle cx="235.8" cy="321.8" r="2.25"/><circle cx="212.5" cy="318.0" r="2.25"/><circle cx="235.5" cy="323.7" r="2.25"/><circle cx="235.6" cy="330.3" r="2.25"/><circle cx="206.6" cy="318.1" r="2.25"/><circle cx="225.0" cy="315.3" r="2.25"/><circle cx="211.4" cy="326.0" r="2.25"/><circle cx="232.5" cy="332.9" r="2.25"/><circle cx="216.8" cy="315.6" r="2.25"/><circle cx="201.1" cy="318.8" r="2.25"/><circle cx="191.9" cy="331.7" r="2.25"/><circle cx="196.7" cy="330.7" r="2.25"/><circle cx="201.6" cy="330.2" r="2.25"/><circle cx="199.7" cy="338.5" r="2.25"/><circle cx="203.5" cy="336.6" r="2.25"/><circle cx="206.5" cy="335.6" r="2.25"/><circle cx="176.0" cy="380.7" r="2.25"/><circle cx="179.9" cy="377.9" r="2.25"/><circle cx="184.7" cy="378.7" r="2.25"/><circle cx="186.7" cy="374.8" r="2.25"/><circle cx="175.0" cy="384.5" r="2.25"/><circle cx="172.1" cy="387.4" r="2.25"/><circle cx="190.1" cy="345.9" r="2.25"/><circle cx="191.2" cy="342.4" r="2.25"/><circle cx="190.6" cy="350.6" r="2.25"/><circle cx="189.3" cy="344.2" r="2.25"/><circle cx="194.2" cy="348.0" r="2.25"/><circle cx="192.0" cy="346.9" r="2.25"/><circle cx="184.1" cy="342.5" r="2.25"/><circle cx="193.6" cy="348.5" r="2.25"/><circle cx="194.4" cy="345.0" r="2.25"/><circle cx="189.0" cy="340.0" r="2.25"/><circle cx="186.0" cy="350.8" r="2.25"/><circle cx="169.5" cy="366.3" r="2.25"/><circle cx="171.8" cy="361.4" r="2.25"/><circle cx="179.3" cy="350.9" r="2.25"/><circle cx="182.2" cy="356.8" r="2.25"/><circle cx="176.3" cy="356.0" r="2.25"/><circle cx="174.6" cy="350.7" r="2.25"/><circle cx="173.8" cy="366.8" r="2.25"/><circle cx="170.4" cy="355.8" r="2.25"/><circle cx="184.6" cy="359.2" r="2.25"/><circle cx="173.0" cy="358.2" r="2.25"/><circle cx="169.4" cy="351.1" r="2.25"/><circle cx="181.2" cy="354.0" r="2.25"/><circle cx="178.9" cy="365.2" r="2.25"/><circle cx="172.2" cy="354.1" r="2.25"/><circle cx="173.1" cy="355.3" r="2.25"/><circle cx="167.0" cy="367.6" r="2.25"/><circle cx="168.8" cy="353.5" r="2.25"/><circle cx="176.6" cy="359.3" r="2.25"/><circle cx="166.9" cy="361.7" r="2.25"/><circle cx="174.8" cy="365.6" r="2.25"/><circle cx="167.0" cy="357.0" r="2.25"/><circle cx="185.8" cy="356.1" r="2.25"/><circle cx="162.4" cy="359.3" r="2.25"/><circle cx="182.3" cy="350.7" r="2.25"/><circle cx="174.1" cy="361.1" r="2.25"/><circle cx="167.9" cy="359.3" r="2.25"/><circle cx="187.1" cy="357.8" r="2.25"/><circle cx="178.1" cy="349.7" r="2.25"/><circle cx="180.2" cy="350.3" r="2.25"/><circle cx="187.3" cy="348.8" r="2.25"/><circle cx="182.3" cy="362.9" r="2.25"/><circle cx="179.2" cy="359.8" r="2.25"/><circle cx="168.5" cy="363.8" r="2.25"/><circle cx="182.3" cy="355.0" r="2.25"/><circle cx="170.9" cy="362.2" r="2.25"/><circle cx="165.9" cy="365.6" r="2.25"/><circle cx="171.5" cy="366.4" r="2.25"/><circle cx="177.0" cy="364.8" r="2.25"/><circle cx="177.6" cy="361.6" r="2.25"/><circle cx="172.7" cy="357.1" r="2.25"/><circle cx="157.4" cy="376.1" r="2.25"/><circle cx="158.9" cy="367.4" r="2.25"/><circle cx="157.5" cy="371.1" r="2.25"/><circle cx="157.3" cy="374.3" r="2.25"/><circle cx="156.8" cy="372.8" r="2.25"/><circle cx="161.3" cy="368.0" r="2.25"/><circle cx="155.4" cy="371.8" r="2.25"/></g>
<g stroke="#0776C4"><circle cx="96.8" cy="415.7" r="2.25"/><circle cx="102.6" cy="413.7" r="2.25"/><circle cx="104.1" cy="417.0" r="2.25"/><circle cx="97.8" cy="414.3" r="2.25"/><circle cx="105.1" cy="415.9" r="2.25"/><circle cx="108.4" cy="413.7" r="2.25"/><circle cx="101.7" cy="416.8" r="2.25"/><circle cx="99.9" cy="415.9" r="2.25"/><circle cx="103.7" cy="415.7" r="2.25"/><circle cx="101.1" cy="414.9" r="2.25"/><circle cx="100.2" cy="413.7" r="2.25"/><circle cx="96.7" cy="414.6" r="2.25"/><circle cx="98.6" cy="416.0" r="2.25"/><circle cx="100.1" cy="417.3" r="2.25"/><circle cx="113.3" cy="411.9" r="2.25"/><circle cx="116.3" cy="410.7" r="2.25"/><circle cx="119.7" cy="410.0" r="2.25"/><circle cx="122.5" cy="409.4" r="2.25"/><circle cx="125.0" cy="391.9" r="2.25"/><circle cx="134.7" cy="390.6" r="2.25"/><circle cx="138.6" cy="390.0" r="2.25"/><circle cx="126.6" cy="402.2" r="2.25"/><circle cx="132.3" cy="396.1" r="2.25"/><circle cx="140.2" cy="400.9" r="2.25"/><circle cx="136.1" cy="407.0" r="2.25"/><circle cx="132.6" cy="393.8" r="2.25"/><circle cx="132.3" cy="408.4" r="2.25"/><circle cx="138.3" cy="403.3" r="2.25"/><circle cx="138.6" cy="408.5" r="2.25"/><circle cx="134.6" cy="401.4" r="2.25"/><circle cx="135.3" cy="397.4" r="2.25"/><circle cx="137.5" cy="398.4" r="2.25"/><circle cx="128.5" cy="401.0" r="2.25"/><circle cx="132.4" cy="397.4" r="2.25"/><circle cx="134.4" cy="393.8" r="2.25"/><circle cx="129.1" cy="404.1" r="2.25"/><circle cx="124.5" cy="407.8" r="2.25"/><circle cx="129.3" cy="406.7" r="2.25"/><circle cx="130.3" cy="396.4" r="2.25"/><circle cx="128.8" cy="402.0" r="2.25"/><circle cx="133.7" cy="399.3" r="2.25"/><circle cx="128.1" cy="402.9" r="2.25"/><circle cx="134.1" cy="405.9" r="2.25"/><circle cx="135.8" cy="393.4" r="2.25"/><circle cx="134.0" cy="404.2" r="2.25"/><circle cx="129.7" cy="399.4" r="2.25"/><circle cx="131.7" cy="404.3" r="2.25"/><circle cx="134.9" cy="395.7" r="2.25"/><circle cx="130.9" cy="402.2" r="2.25"/><circle cx="135.8" cy="399.0" r="2.25"/><circle cx="126.8" cy="403.8" r="2.25"/><circle cx="141.1" cy="404.2" r="2.25"/><circle cx="139.4" cy="407.0" r="2.25"/><circle cx="132.8" cy="392.4" r="2.25"/><circle cx="138.0" cy="392.1" r="2.25"/><circle cx="136.3" cy="393.3" r="2.25"/><circle cx="135.2" cy="393.0" r="2.25"/><circle cx="139.3" cy="393.6" r="2.25"/><circle cx="141.0" cy="392.4" r="2.25"/><circle cx="139.2" cy="393.2" r="2.25"/><circle cx="142.3" cy="390.4" r="2.25"/><circle cx="140.1" cy="390.1" r="2.25"/><circle cx="142.0" cy="389.3" r="2.25"/><circle cx="142.0" cy="392.1" r="2.25"/><circle cx="146.5" cy="391.1" r="2.25"/><circle cx="144.2" cy="392.6" r="2.25"/><circle cx="144.4" cy="388.3" r="2.25"/><circle cx="147.5" cy="390.5" r="2.25"/><circle cx="146.6" cy="392.6" r="2.25"/><circle cx="149.5" cy="388.6" r="2.25"/><circle cx="148.5" cy="387.6" r="2.25"/><circle cx="149.1" cy="387.0" r="2.25"/><circle cx="149.8" cy="387.6" r="2.25"/><circle cx="151.9" cy="390.1" r="2.25"/><circle cx="149.6" cy="386.2" r="2.25"/><circle cx="154.2" cy="387.6" r="2.25"/><circle cx="153.4" cy="388.9" r="2.25"/><circle cx="152.0" cy="386.8" r="2.25"/><circle cx="155.3" cy="385.0" r="2.25"/><circle cx="157.0" cy="386.1" r="2.25"/><circle cx="156.4" cy="383.6" r="2.25"/><circle cx="155.1" cy="387.4" r="2.25"/><circle cx="158.0" cy="385.2" r="2.25"/><circle cx="156.5" cy="384.5" r="2.25"/><circle cx="160.2" cy="384.1" r="2.25"/><circle cx="159.5" cy="384.1" r="2.25"/><circle cx="160.2" cy="384.4" r="2.25"/><circle cx="161.0" cy="385.6" r="2.25"/><circle cx="160.6" cy="382.8" r="2.25"/><circle cx="163.3" cy="383.4" r="2.25"/><circle cx="161.3" cy="383.6" r="2.25"/><circle cx="165.3" cy="381.6" r="2.25"/><circle cx="165.7" cy="380.5" r="2.25"/><circle cx="164.2" cy="378.0" r="2.25"/><circle cx="163.3" cy="381.3" r="2.25"/><circle cx="164.2" cy="376.6" r="2.25"/><circle cx="165.7" cy="375.9" r="2.25"/><circle cx="164.0" cy="378.9" r="2.25"/><circle cx="165.3" cy="379.1" r="2.25"/><circle cx="169.2" cy="375.5" r="2.25"/><circle cx="168.0" cy="373.2" r="2.25"/><circle cx="168.3" cy="374.9" r="2.25"/><circle cx="168.7" cy="375.3" r="2.25"/><circle cx="170.1" cy="373.4" r="2.25"/><circle cx="168.6" cy="376.1" r="2.25"/><circle cx="169.4" cy="373.7" r="2.25"/><circle cx="172.2" cy="374.5" r="2.25"/><circle cx="172.2" cy="374.5" r="2.25"/><circle cx="175.6" cy="374.2" r="2.25"/><circle cx="176.5" cy="374.2" r="2.25"/><circle cx="176.7" cy="371.1" r="2.25"/><circle cx="178.1" cy="374.5" r="2.25"/><circle cx="178.0" cy="372.9" r="2.25"/><circle cx="179.4" cy="375.2" r="2.25"/><circle cx="181.3" cy="374.4" r="2.25"/><circle cx="177.4" cy="373.8" r="2.25"/><circle cx="179.9" cy="372.4" r="2.25"/><circle cx="179.3" cy="375.3" r="2.25"/><circle cx="181.4" cy="374.4" r="2.25"/><circle cx="181.2" cy="372.0" r="2.25"/><circle cx="181.7" cy="375.5" r="2.25"/><circle cx="182.4" cy="374.7" r="2.25"/><circle cx="185.6" cy="375.7" r="2.25"/></g></g>
<rect x="58.3" y="289.3" width="194.7" height="198.4" fill="none" stroke="#333333" stroke-width="1.2"/>
<path d="M77.8 487.7v-2.4M77.8 289.3v2.4M58.3 467.9h2.4M253.0 467.9h-2.4M116.7 487.7v-2.4M116.7 289.3v2.4M58.3 428.2h2.4M253.0 428.2h-2.4M155.6 487.7v-2.4M155.6 289.3v2.4M58.3 388.5h2.4M253.0 388.5h-2.4M194.6 487.7v-2.4M194.6 289.3v2.4M58.3 348.8h2.4M253.0 348.8h-2.4M233.5 487.7v-2.4M233.5 289.3v2.4M58.3 309.1h2.4M253.0 309.1h-2.4" stroke="#333333" stroke-width="1.1" fill="none"/>
<text x="77.8" y="514.4" text-anchor="middle" font-size="19">2</text>
<text x="51.5" y="474.8" text-anchor="end" font-size="19">2</text>
<text x="116.7" y="514.4" text-anchor="middle" font-size="19">4</text>
<text x="51.5" y="435.1" text-anchor="end" font-size="19">4</text>
<text x="155.6" y="514.4" text-anchor="middle" font-size="19">6</text>
<text x="51.5" y="395.4" text-anchor="end" font-size="19">6</text>
<text x="194.6" y="514.4" text-anchor="middle" font-size="19">8</text>
<text x="51.5" y="355.7" text-anchor="end" font-size="19">8</text>
<text x="233.5" y="514.4" text-anchor="middle" font-size="19">10</text>
<text x="51.5" y="316.0" text-anchor="end" font-size="19">10</text>
<text x="78.0" y="316.3" font-size="19.7">(c)</text>
<text x="155.6" y="454.2" font-size="16">ME: 0.57 m</text>
<text x="155.6" y="474.1" font-size="16">Corr: 0.95</text></g>
<g id="panel-d"><line x1="315.0" y1="487.7" x2="509.5" y2="289.3" stroke="#000" stroke-width="1.7"/>
<g fill="none" stroke-width="1.35"><g stroke="#62AD24"><circle cx="340.0" cy="426.1" r="2.25"/><circle cx="348.2" cy="411.8" r="2.25"/><circle cx="350.0" cy="407.4" r="2.25"/><circle cx="346.3" cy="430.4" r="2.25"/><circle cx="346.0" cy="421.2" r="2.25"/><circle cx="361.6" cy="399.4" r="2.25"/><circle cx="342.4" cy="417.1" r="2.25"/><circle cx="336.8" cy="429.1" r="2.25"/><circle cx="343.6" cy="427.1" r="2.25"/><circle cx="337.4" cy="435.5" r="2.25"/><circle cx="354.3" cy="401.4" r="2.25"/><circle cx="342.4" cy="422.4" r="2.25"/><circle cx="342.6" cy="424.7" r="2.25"/><circle cx="334.1" cy="428.1" r="2.25"/><circle cx="340.2" cy="420.3" r="2.25"/><circle cx="362.4" cy="397.6" r="2.25"/><circle cx="348.6" cy="420.1" r="2.25"/><circle cx="350.8" cy="427.2" r="2.25"/><circle cx="336.0" cy="440.2" r="2.25"/><circle cx="334.5" cy="435.1" r="2.25"/><circle cx="351.4" cy="424.7" r="2.25"/><circle cx="333.5" cy="436.9" r="2.25"/><circle cx="365.1" cy="398.2" r="2.25"/><circle cx="347.4" cy="414.4" r="2.25"/><circle cx="345.8" cy="424.3" r="2.25"/><circle cx="348.5" cy="423.6" r="2.25"/><circle cx="335.3" cy="438.1" r="2.25"/><circle cx="337.0" cy="423.7" r="2.25"/><circle cx="351.9" cy="407.1" r="2.25"/><circle cx="358.7" cy="403.6" r="2.25"/><circle cx="344.7" cy="420.1" r="2.25"/><circle cx="353.7" cy="407.4" r="2.25"/><circle cx="345.2" cy="416.1" r="2.25"/><circle cx="345.2" cy="417.6" r="2.25"/><circle cx="340.7" cy="431.8" r="2.25"/><circle cx="347.5" cy="409.8" r="2.25"/><circle cx="335.9" cy="435.4" r="2.25"/><circle cx="340.3" cy="435.0" r="2.25"/><circle cx="338.6" cy="424.2" r="2.25"/><circle cx="342.5" cy="430.3" r="2.25"/><circle cx="354.9" cy="403.6" r="2.25"/><circle cx="358.7" cy="400.8" r="2.25"/><circle cx="335.4" cy="430.5" r="2.25"/><circle cx="345.6" cy="411.0" r="2.25"/><circle cx="359.9" cy="402.6" r="2.25"/><circle cx="343.1" cy="423.6" r="2.25"/><circle cx="345.4" cy="428.2" r="2.25"/><circle cx="360.6" cy="400.1" r="2.25"/><circle cx="343.5" cy="425.8" r="2.25"/><circle cx="347.3" cy="413.2" r="2.25"/><circle cx="352.6" cy="406.4" r="2.25"/><circle cx="346.5" cy="414.0" r="2.25"/><circle cx="340.1" cy="433.4" r="2.25"/><circle cx="350.5" cy="405.1" r="2.25"/><circle cx="342.0" cy="420.8" r="2.25"/><circle cx="344.2" cy="425.0" r="2.25"/><circle cx="350.6" cy="421.9" r="2.25"/><circle cx="351.4" cy="426.6" r="2.25"/><circle cx="337.8" cy="433.6" r="2.25"/><circle cx="356.5" cy="399.4" r="2.25"/><circle cx="360.3" cy="397.4" r="2.25"/><circle cx="357.8" cy="404.5" r="2.25"/><circle cx="338.7" cy="426.1" r="2.25"/><circle cx="356.9" cy="404.5" r="2.25"/><circle cx="345.0" cy="412.5" r="2.25"/><circle cx="349.5" cy="422.2" r="2.25"/><circle cx="347.9" cy="406.6" r="2.25"/><circle cx="353.4" cy="403.1" r="2.25"/><circle cx="341.2" cy="418.5" r="2.25"/><circle cx="344.4" cy="415.0" r="2.25"/><circle cx="337.9" cy="428.8" r="2.25"/><circle cx="342.1" cy="431.5" r="2.25"/><circle cx="350.1" cy="403.3" r="2.25"/><circle cx="347.5" cy="421.9" r="2.25"/><circle cx="350.1" cy="421.8" r="2.25"/><circle cx="355.5" cy="400.5" r="2.25"/><circle cx="334.2" cy="434.9" r="2.25"/><circle cx="343.3" cy="420.2" r="2.25"/><circle cx="366.9" cy="397.8" r="2.25"/><circle cx="342.4" cy="424.6" r="2.25"/><circle cx="352.5" cy="401.3" r="2.25"/><circle cx="337.6" cy="429.2" r="2.25"/><circle cx="355.2" cy="400.5" r="2.25"/><circle cx="354.9" cy="402.1" r="2.25"/><circle cx="343.7" cy="430.3" r="2.25"/><circle cx="352.6" cy="407.7" r="2.25"/><circle cx="346.8" cy="423.1" r="2.25"/><circle cx="346.3" cy="409.6" r="2.25"/><circle cx="364.7" cy="397.0" r="2.25"/><circle cx="338.5" cy="421.2" r="2.25"/><circle cx="364.4" cy="399.5" r="2.25"/><circle cx="340.2" cy="429.2" r="2.25"/><circle cx="348.8" cy="424.7" r="2.25"/><circle cx="342.3" cy="419.3" r="2.25"/><circle cx="341.8" cy="425.7" r="2.25"/><circle cx="345.7" cy="415.7" r="2.25"/><circle cx="363.6" cy="397.6" r="2.25"/><circle cx="339.4" cy="420.2" r="2.25"/><circle cx="344.7" cy="423.0" r="2.25"/><circle cx="344.9" cy="418.8" r="2.25"/><circle cx="346.5" cy="429.6" r="2.25"/><circle cx="347.3" cy="425.8" r="2.25"/><circle cx="347.5" cy="407.4" r="2.25"/><circle cx="335.5" cy="424.7" r="2.25"/><circle cx="339.6" cy="424.9" r="2.25"/><circle cx="335.5" cy="434.9" r="2.25"/><circle cx="345.6" cy="421.4" r="2.25"/><circle cx="344.2" cy="428.7" r="2.25"/><circle cx="348.6" cy="411.3" r="2.25"/><circle cx="365.9" cy="395.9" r="2.25"/><circle cx="364.8" cy="413.2" r="2.25"/><circle cx="371.5" cy="408.3" r="2.25"/><circle cx="362.4" cy="408.8" r="2.25"/><circle cx="366.5" cy="409.4" r="2.25"/><circle cx="372.9" cy="406.1" r="2.25"/><circle cx="359.9" cy="416.8" r="2.25"/><circle cx="362.7" cy="412.9" r="2.25"/><circle cx="364.9" cy="417.8" r="2.25"/><circle cx="361.7" cy="416.1" r="2.25"/><circle cx="361.7" cy="416.6" r="2.25"/><circle cx="371.9" cy="406.4" r="2.25"/><circle cx="371.1" cy="411.3" r="2.25"/><circle cx="370.6" cy="408.1" r="2.25"/><circle cx="364.4" cy="407.9" r="2.25"/><circle cx="366.9" cy="411.8" r="2.25"/><circle cx="375.4" cy="408.1" r="2.25"/><circle cx="363.6" cy="409.6" r="2.25"/><circle cx="377.2" cy="406.6" r="2.25"/><circle cx="373.3" cy="412.0" r="2.25"/><circle cx="369.7" cy="412.9" r="2.25"/><circle cx="371.0" cy="413.7" r="2.25"/><circle cx="373.5" cy="408.4" r="2.25"/><circle cx="360.5" cy="416.0" r="2.25"/><circle cx="369.3" cy="389.0" r="2.25"/><circle cx="376.1" cy="390.6" r="2.25"/><circle cx="383.3" cy="435.2" r="2.25"/><circle cx="365.8" cy="396.2" r="2.25"/><circle cx="368.3" cy="437.5" r="2.25"/><circle cx="379.5" cy="430.9" r="2.25"/><circle cx="374.0" cy="431.5" r="2.25"/><circle cx="360.9" cy="445.2" r="2.25"/><circle cx="360.7" cy="441.8" r="2.25"/><circle cx="368.4" cy="438.5" r="2.25"/><circle cx="377.7" cy="435.4" r="2.25"/><circle cx="363.9" cy="439.1" r="2.25"/><circle cx="369.7" cy="433.4" r="2.25"/><circle cx="375.4" cy="433.8" r="2.25"/><circle cx="364.0" cy="441.5" r="2.25"/><circle cx="375.7" cy="436.9" r="2.25"/><circle cx="377.5" cy="432.6" r="2.25"/><circle cx="366.7" cy="435.1" r="2.25"/><circle cx="370.5" cy="434.6" r="2.25"/><circle cx="371.2" cy="439.0" r="2.25"/><circle cx="376.2" cy="430.5" r="2.25"/><circle cx="367.6" cy="438.5" r="2.25"/><circle cx="376.9" cy="434.0" r="2.25"/><circle cx="369.0" cy="436.3" r="2.25"/><circle cx="359.5" cy="443.3" r="2.25"/><circle cx="358.4" cy="445.9" r="2.25"/><circle cx="372.7" cy="431.5" r="2.25"/><circle cx="371.6" cy="437.6" r="2.25"/><circle cx="368.8" cy="440.7" r="2.25"/><circle cx="395.3" cy="416.9" r="2.25"/><circle cx="387.4" cy="421.9" r="2.25"/><circle cx="390.8" cy="416.8" r="2.25"/><circle cx="401.2" cy="412.0" r="2.25"/><circle cx="385.3" cy="418.9" r="2.25"/><circle cx="389.2" cy="418.0" r="2.25"/><circle cx="400.8" cy="408.9" r="2.25"/><circle cx="394.3" cy="412.8" r="2.25"/><circle cx="401.4" cy="410.5" r="2.25"/><circle cx="398.4" cy="413.1" r="2.25"/><circle cx="399.6" cy="414.0" r="2.25"/><circle cx="397.8" cy="408.9" r="2.25"/><circle cx="396.5" cy="415.5" r="2.25"/><circle cx="397.1" cy="411.2" r="2.25"/><circle cx="390.2" cy="422.0" r="2.25"/><circle cx="384.3" cy="419.5" r="2.25"/><circle cx="392.2" cy="414.7" r="2.25"/><circle cx="394.7" cy="418.1" r="2.25"/><circle cx="385.7" cy="417.0" r="2.25"/><circle cx="389.7" cy="415.4" r="2.25"/><circle cx="390.9" cy="416.3" r="2.25"/><circle cx="385.2" cy="422.6" r="2.25"/><circle cx="394.0" cy="416.7" r="2.25"/><circle cx="387.8" cy="420.5" r="2.25"/><circle cx="399.3" cy="411.3" r="2.25"/><circle cx="391.2" cy="415.6" r="2.25"/><circle cx="389.5" cy="413.3" r="2.25"/><circle cx="398.9" cy="365.3" r="2.25"/><circle cx="390.3" cy="363.4" r="2.25"/><circle cx="397.2" cy="362.6" r="2.25"/><circle cx="389.0" cy="363.6" r="2.25"/><circle cx="391.1" cy="362.6" r="2.25"/><circle cx="401.3" cy="365.7" r="2.25"/><circle cx="400.9" cy="362.5" r="2.25"/><circle cx="386.0" cy="365.8" r="2.25"/><circle cx="403.1" cy="362.8" r="2.25"/><circle cx="391.5" cy="365.3" r="2.25"/><circle cx="392.1" cy="362.0" r="2.25"/><circle cx="387.8" cy="366.4" r="2.25"/><circle cx="389.0" cy="364.2" r="2.25"/><circle cx="402.8" cy="365.2" r="2.25"/><circle cx="396.2" cy="363.6" r="2.25"/><circle cx="396.6" cy="365.2" r="2.25"/><circle cx="403.3" cy="363.9" r="2.25"/><circle cx="390.3" cy="363.0" r="2.25"/><circle cx="394.1" cy="362.9" r="2.25"/><circle cx="399.6" cy="363.8" r="2.25"/><circle cx="395.5" cy="365.4" r="2.25"/><circle cx="400.2" cy="365.2" r="2.25"/><circle cx="403.2" cy="365.4" r="2.25"/><circle cx="372.7" cy="376.9" r="2.25"/><circle cx="375.7" cy="375.9" r="2.25"/><circle cx="371.8" cy="379.8" r="2.25"/><circle cx="376.6" cy="382.1" r="2.25"/><circle cx="368.3" cy="387.5" r="2.25"/><circle cx="407.7" cy="383.7" r="2.25"/><circle cx="414.5" cy="382.7" r="2.25"/><circle cx="417.4" cy="395.3" r="2.25"/><circle cx="421.3" cy="395.3" r="2.25"/><circle cx="415.5" cy="399.2" r="2.25"/><circle cx="446.9" cy="351.1" r="2.25"/><circle cx="448.9" cy="354.0" r="2.25"/><circle cx="446.0" cy="357.0" r="2.25"/><circle cx="442.1" cy="361.8" r="2.25"/><circle cx="445.0" cy="353.1" r="2.25"/><circle cx="429.4" cy="366.7" r="2.25"/><circle cx="433.3" cy="365.7" r="2.25"/><circle cx="431.4" cy="369.6" r="2.25"/><circle cx="412.9" cy="384.1" r="2.25"/><circle cx="417.8" cy="382.2" r="2.25"/><circle cx="420.7" cy="386.1" r="2.25"/></g>
<g stroke="#FDAE05"><circle cx="359.9" cy="431.7" r="2.25"/><circle cx="329.2" cy="449.2" r="2.25"/><circle cx="334.6" cy="446.7" r="2.25"/><circle cx="346.5" cy="435.7" r="2.25"/><circle cx="377.5" cy="419.3" r="2.25"/><circle cx="346.3" cy="447.3" r="2.25"/><circle cx="350.1" cy="445.9" r="2.25"/><circle cx="339.3" cy="449.1" r="2.25"/><circle cx="355.2" cy="439.9" r="2.25"/><circle cx="358.5" cy="435.0" r="2.25"/><circle cx="340.0" cy="440.4" r="2.25"/><circle cx="342.6" cy="444.6" r="2.25"/><circle cx="353.0" cy="435.1" r="2.25"/><circle cx="351.2" cy="442.2" r="2.25"/><circle cx="373.6" cy="419.2" r="2.25"/><circle cx="367.7" cy="425.7" r="2.25"/><circle cx="340.0" cy="442.7" r="2.25"/><circle cx="347.1" cy="441.8" r="2.25"/><circle cx="365.4" cy="424.4" r="2.25"/><circle cx="351.2" cy="437.6" r="2.25"/><circle cx="372.3" cy="425.8" r="2.25"/><circle cx="347.0" cy="449.0" r="2.25"/><circle cx="352.3" cy="432.5" r="2.25"/><circle cx="349.7" cy="437.3" r="2.25"/><circle cx="355.8" cy="427.1" r="2.25"/><circle cx="358.8" cy="428.3" r="2.25"/><circle cx="364.5" cy="423.3" r="2.25"/><circle cx="348.2" cy="436.3" r="2.25"/><circle cx="333.2" cy="445.3" r="2.25"/><circle cx="368.2" cy="429.8" r="2.25"/><circle cx="325.8" cy="448.0" r="2.25"/><circle cx="364.2" cy="428.0" r="2.25"/><circle cx="361.2" cy="431.4" r="2.25"/><circle cx="353.2" cy="439.9" r="2.25"/><circle cx="367.4" cy="421.5" r="2.25"/><circle cx="371.5" cy="419.5" r="2.25"/><circle cx="347.0" cy="438.6" r="2.25"/><circle cx="335.5" cy="445.4" r="2.25"/><circle cx="345.7" cy="433.6" r="2.25"/><circle cx="348.3" cy="439.3" r="2.25"/><circle cx="343.4" cy="448.2" r="2.25"/><circle cx="342.7" cy="441.2" r="2.25"/><circle cx="337.3" cy="444.2" r="2.25"/><circle cx="356.7" cy="437.6" r="2.25"/><circle cx="342.5" cy="438.4" r="2.25"/><circle cx="342.0" cy="439.8" r="2.25"/><circle cx="362.4" cy="427.2" r="2.25"/><circle cx="352.6" cy="445.8" r="2.25"/><circle cx="353.9" cy="437.9" r="2.25"/><circle cx="369.5" cy="419.9" r="2.25"/><circle cx="340.2" cy="451.2" r="2.25"/><circle cx="344.9" cy="449.3" r="2.25"/><circle cx="330.7" cy="448.6" r="2.25"/><circle cx="357.3" cy="432.8" r="2.25"/><circle cx="360.8" cy="427.0" r="2.25"/><circle cx="344.2" cy="441.5" r="2.25"/><circle cx="352.8" cy="442.7" r="2.25"/><circle cx="375.1" cy="416.6" r="2.25"/><circle cx="365.9" cy="429.8" r="2.25"/><circle cx="349.1" cy="433.5" r="2.25"/><circle cx="350.6" cy="440.2" r="2.25"/><circle cx="352.2" cy="438.5" r="2.25"/><circle cx="356.2" cy="435.6" r="2.25"/><circle cx="362.0" cy="430.3" r="2.25"/><circle cx="345.8" cy="436.6" r="2.25"/><circle cx="342.9" cy="443.3" r="2.25"/><circle cx="354.5" cy="432.3" r="2.25"/><circle cx="342.2" cy="447.9" r="2.25"/><circle cx="348.9" cy="446.0" r="2.25"/><circle cx="343.5" cy="436.8" r="2.25"/><circle cx="375.8" cy="423.1" r="2.25"/><circle cx="336.4" cy="448.1" r="2.25"/><circle cx="347.2" cy="434.7" r="2.25"/><circle cx="344.1" cy="440.3" r="2.25"/><circle cx="354.4" cy="443.3" r="2.25"/><circle cx="358.1" cy="431.7" r="2.25"/><circle cx="353.5" cy="434.2" r="2.25"/><circle cx="350.3" cy="435.7" r="2.25"/><circle cx="350.3" cy="446.4" r="2.25"/><circle cx="341.7" cy="445.2" r="2.25"/><circle cx="358.4" cy="435.4" r="2.25"/><circle cx="360.8" cy="430.3" r="2.25"/><circle cx="370.1" cy="421.2" r="2.25"/><circle cx="371.5" cy="421.2" r="2.25"/><circle cx="329.8" cy="450.7" r="2.25"/><circle cx="356.4" cy="430.4" r="2.25"/><circle cx="340.2" cy="444.5" r="2.25"/><circle cx="331.5" cy="444.9" r="2.25"/><circle cx="376.6" cy="420.2" r="2.25"/><circle cx="348.2" cy="443.0" r="2.25"/><circle cx="371.5" cy="422.7" r="2.25"/><circle cx="358.0" cy="436.3" r="2.25"/><circle cx="338.8" cy="441.4" r="2.25"/><circle cx="340.1" cy="445.3" r="2.25"/><circle cx="340.0" cy="447.4" r="2.25"/><circle cx="360.2" cy="428.3" r="2.25"/><circle cx="375.5" cy="421.7" r="2.25"/><circle cx="368.1" cy="426.4" r="2.25"/><circle cx="348.1" cy="440.6" r="2.25"/><circle cx="361.6" cy="424.6" r="2.25"/><circle cx="372.1" cy="425.8" r="2.25"/><circle cx="336.5" cy="450.1" r="2.25"/><circle cx="326.4" cy="447.8" r="2.25"/><circle cx="362.4" cy="431.0" r="2.25"/><circle cx="352.4" cy="443.9" r="2.25"/><circle cx="355.4" cy="427.0" r="2.25"/><circle cx="371.8" cy="418.0" r="2.25"/><circle cx="352.7" cy="428.5" r="2.25"/><circle cx="352.9" cy="431.9" r="2.25"/><circle cx="353.5" cy="443.4" r="2.25"/><circle cx="344.1" cy="446.6" r="2.25"/><circle cx="378.3" cy="418.1" r="2.25"/><circle cx="365.5" cy="423.0" r="2.25"/><circle cx="349.1" cy="438.7" r="2.25"/><circle cx="347.4" cy="437.1" r="2.25"/><circle cx="340.5" cy="450.4" r="2.25"/><circle cx="350.8" cy="444.1" r="2.25"/><circle cx="348.8" cy="435.0" r="2.25"/><circle cx="337.6" cy="449.3" r="2.25"/><circle cx="326.3" cy="447.1" r="2.25"/><circle cx="343.6" cy="450.3" r="2.25"/><circle cx="352.8" cy="445.6" r="2.25"/><circle cx="353.5" cy="433.1" r="2.25"/><circle cx="368.0" cy="429.0" r="2.25"/><circle cx="365.3" cy="431.1" r="2.25"/><circle cx="352.6" cy="438.3" r="2.25"/><circle cx="356.8" cy="427.3" r="2.25"/><circle cx="355.7" cy="438.1" r="2.25"/><circle cx="341.5" cy="446.5" r="2.25"/><circle cx="359.7" cy="436.2" r="2.25"/><circle cx="344.4" cy="443.2" r="2.25"/><circle cx="328.5" cy="447.4" r="2.25"/><circle cx="374.4" cy="417.6" r="2.25"/><circle cx="363.3" cy="424.8" r="2.25"/><circle cx="329.7" cy="445.6" r="2.25"/><circle cx="340.0" cy="439.3" r="2.25"/><circle cx="338.4" cy="443.5" r="2.25"/><circle cx="365.5" cy="424.9" r="2.25"/><circle cx="341.9" cy="443.6" r="2.25"/><circle cx="346.8" cy="449.9" r="2.25"/><circle cx="351.9" cy="436.3" r="2.25"/><circle cx="328.4" cy="449.2" r="2.25"/><circle cx="336.9" cy="446.9" r="2.25"/><circle cx="352.7" cy="430.9" r="2.25"/><circle cx="342.6" cy="440.3" r="2.25"/><circle cx="374.6" cy="420.2" r="2.25"/><circle cx="373.4" cy="416.1" r="2.25"/><circle cx="334.9" cy="446.6" r="2.25"/><circle cx="343.3" cy="447.3" r="2.25"/><circle cx="380.2" cy="419.0" r="2.25"/><circle cx="366.3" cy="427.0" r="2.25"/><circle cx="354.2" cy="430.3" r="2.25"/><circle cx="350.7" cy="434.5" r="2.25"/><circle cx="335.2" cy="447.1" r="2.25"/><circle cx="351.7" cy="440.5" r="2.25"/><circle cx="337.0" cy="445.7" r="2.25"/><circle cx="363.1" cy="426.7" r="2.25"/><circle cx="338.9" cy="446.1" r="2.25"/><circle cx="338.3" cy="446.9" r="2.25"/><circle cx="332.6" cy="450.1" r="2.25"/><circle cx="352.1" cy="431.5" r="2.25"/><circle cx="348.3" cy="446.6" r="2.25"/><circle cx="369.7" cy="423.9" r="2.25"/><circle cx="368.9" cy="421.5" r="2.25"/><circle cx="349.3" cy="431.8" r="2.25"/><circle cx="339.1" cy="440.9" r="2.25"/><circle cx="372.4" cy="426.3" r="2.25"/><circle cx="359.5" cy="429.5" r="2.25"/><circle cx="339.5" cy="446.6" r="2.25"/><circle cx="350.3" cy="447.8" r="2.25"/><circle cx="349.9" cy="439.4" r="2.25"/><circle cx="346.2" cy="434.0" r="2.25"/><circle cx="349.9" cy="441.4" r="2.25"/><circle cx="377.8" cy="417.7" r="2.25"/><circle cx="345.3" cy="442.5" r="2.25"/><circle cx="349.7" cy="446.3" r="2.25"/><circle cx="359.1" cy="434.5" r="2.25"/><circle cx="402.3" cy="400.6" r="2.25"/><circle cx="385.0" cy="411.1" r="2.25"/><circle cx="413.6" cy="398.7" r="2.25"/><circle cx="381.3" cy="416.2" r="2.25"/><circle cx="402.0" cy="398.6" r="2.25"/><circle cx="384.4" cy="404.4" r="2.25"/><circle cx="403.7" cy="393.1" r="2.25"/><circle cx="413.9" cy="392.1" r="2.25"/><circle cx="392.9" cy="410.3" r="2.25"/><circle cx="395.7" cy="404.2" r="2.25"/><circle cx="404.9" cy="401.8" r="2.25"/><circle cx="390.8" cy="401.8" r="2.25"/><circle cx="413.5" cy="388.4" r="2.25"/><circle cx="408.5" cy="390.0" r="2.25"/><circle cx="407.0" cy="396.6" r="2.25"/><circle cx="390.4" cy="406.5" r="2.25"/><circle cx="379.1" cy="412.5" r="2.25"/><circle cx="389.6" cy="412.9" r="2.25"/><circle cx="398.4" cy="395.3" r="2.25"/><circle cx="393.2" cy="401.2" r="2.25"/><circle cx="394.2" cy="400.9" r="2.25"/><circle cx="408.4" cy="401.6" r="2.25"/><circle cx="409.2" cy="394.2" r="2.25"/><circle cx="383.0" cy="413.0" r="2.25"/><circle cx="388.2" cy="404.1" r="2.25"/><circle cx="406.1" cy="403.6" r="2.25"/><circle cx="410.8" cy="397.5" r="2.25"/><circle cx="386.8" cy="404.0" r="2.25"/><circle cx="386.4" cy="416.0" r="2.25"/><circle cx="390.0" cy="411.4" r="2.25"/><circle cx="381.4" cy="405.8" r="2.25"/><circle cx="399.5" cy="401.3" r="2.25"/><circle cx="396.9" cy="398.0" r="2.25"/><circle cx="403.6" cy="397.3" r="2.25"/><circle cx="414.3" cy="394.2" r="2.25"/><circle cx="390.6" cy="401.0" r="2.25"/><circle cx="407.9" cy="390.2" r="2.25"/><circle cx="381.5" cy="412.4" r="2.25"/><circle cx="392.1" cy="405.5" r="2.25"/><circle cx="403.9" cy="398.8" r="2.25"/><circle cx="413.0" cy="390.4" r="2.25"/><circle cx="397.5" cy="401.8" r="2.25"/><circle cx="387.0" cy="405.9" r="2.25"/><circle cx="378.2" cy="416.7" r="2.25"/><circle cx="377.9" cy="413.8" r="2.25"/><circle cx="389.0" cy="413.9" r="2.25"/><circle cx="386.4" cy="404.9" r="2.25"/><circle cx="400.0" cy="404.2" r="2.25"/><circle cx="383.1" cy="407.9" r="2.25"/><circle cx="403.1" cy="403.6" r="2.25"/><circle cx="405.6" cy="397.1" r="2.25"/><circle cx="408.8" cy="392.9" r="2.25"/><circle cx="388.2" cy="414.6" r="2.25"/><circle cx="378.8" cy="408.6" r="2.25"/><circle cx="385.4" cy="412.5" r="2.25"/><circle cx="384.1" cy="407.3" r="2.25"/><circle cx="409.0" cy="401.5" r="2.25"/><circle cx="396.6" cy="396.0" r="2.25"/><circle cx="400.4" cy="405.5" r="2.25"/><circle cx="400.2" cy="397.3" r="2.25"/><circle cx="404.4" cy="401.9" r="2.25"/><circle cx="401.9" cy="396.0" r="2.25"/><circle cx="407.7" cy="395.6" r="2.25"/><circle cx="411.9" cy="402.7" r="2.25"/><circle cx="381.1" cy="416.4" r="2.25"/><circle cx="395.5" cy="399.8" r="2.25"/><circle cx="403.5" cy="394.7" r="2.25"/><circle cx="391.8" cy="398.1" r="2.25"/><circle cx="395.8" cy="401.9" r="2.25"/><circle cx="408.6" cy="397.6" r="2.25"/><circle cx="393.7" cy="397.3" r="2.25"/><circle cx="405.4" cy="391.7" r="2.25"/><circle cx="394.2" cy="410.8" r="2.25"/><circle cx="400.9" cy="395.8" r="2.25"/><circle cx="380.9" cy="412.7" r="2.25"/><circle cx="397.3" cy="404.9" r="2.25"/><circle cx="399.2" cy="399.4" r="2.25"/><circle cx="394.0" cy="399.9" r="2.25"/><circle cx="407.4" cy="393.6" r="2.25"/><circle cx="398.9" cy="397.6" r="2.25"/><circle cx="410.9" cy="390.8" r="2.25"/><circle cx="403.0" cy="405.0" r="2.25"/><circle cx="403.8" cy="399.9" r="2.25"/><circle cx="410.1" cy="394.4" r="2.25"/><circle cx="396.8" cy="407.4" r="2.25"/><circle cx="396.3" cy="409.0" r="2.25"/><circle cx="410.0" cy="399.4" r="2.25"/><circle cx="384.4" cy="404.5" r="2.25"/><circle cx="375.3" cy="416.1" r="2.25"/><circle cx="393.1" cy="408.9" r="2.25"/><circle cx="404.0" cy="403.2" r="2.25"/><circle cx="381.5" cy="415.8" r="2.25"/><circle cx="379.1" cy="417.9" r="2.25"/><circle cx="380.0" cy="410.9" r="2.25"/><circle cx="384.6" cy="405.2" r="2.25"/><circle cx="392.5" cy="401.1" r="2.25"/><circle cx="406.8" cy="403.8" r="2.25"/><circle cx="405.0" cy="403.8" r="2.25"/><circle cx="382.3" cy="417.4" r="2.25"/><circle cx="398.7" cy="402.5" r="2.25"/><circle cx="394.2" cy="405.8" r="2.25"/><circle cx="411.2" cy="396.9" r="2.25"/><circle cx="386.2" cy="401.5" r="2.25"/><circle cx="389.6" cy="406.5" r="2.25"/><circle cx="413.6" cy="399.4" r="2.25"/><circle cx="380.6" cy="419.3" r="2.25"/><circle cx="391.9" cy="402.4" r="2.25"/><circle cx="412.3" cy="402.0" r="2.25"/><circle cx="414.5" cy="392.6" r="2.25"/><circle cx="390.5" cy="409.5" r="2.25"/><circle cx="384.2" cy="411.2" r="2.25"/><circle cx="409.5" cy="390.1" r="2.25"/><circle cx="389.3" cy="402.5" r="2.25"/><circle cx="390.3" cy="401.6" r="2.25"/><circle cx="377.4" cy="413.9" r="2.25"/><circle cx="390.6" cy="413.5" r="2.25"/><circle cx="391.0" cy="410.8" r="2.25"/><circle cx="413.0" cy="386.9" r="2.25"/><circle cx="406.5" cy="405.9" r="2.25"/><circle cx="414.2" cy="400.0" r="2.25"/><circle cx="418.2" cy="386.0" r="2.25"/><circle cx="420.2" cy="387.8" r="2.25"/><circle cx="407.8" cy="398.4" r="2.25"/><circle cx="410.0" cy="389.1" r="2.25"/><circle cx="417.0" cy="394.4" r="2.25"/><circle cx="412.8" cy="403.4" r="2.25"/><circle cx="410.8" cy="386.1" r="2.25"/><circle cx="414.9" cy="390.1" r="2.25"/><circle cx="416.3" cy="387.7" r="2.25"/><circle cx="411.8" cy="389.0" r="2.25"/><circle cx="416.2" cy="391.6" r="2.25"/><circle cx="418.6" cy="383.2" r="2.25"/><circle cx="410.4" cy="396.2" r="2.25"/><circle cx="416.1" cy="393.2" r="2.25"/><circle cx="415.4" cy="395.1" r="2.25"/><circle cx="417.6" cy="388.7" r="2.25"/><circle cx="407.4" cy="393.7" r="2.25"/><circle cx="409.6" cy="402.0" r="2.25"/><circle cx="411.7" cy="388.3" r="2.25"/><circle cx="404.7" cy="382.3" r="2.25"/><circle cx="409.8" cy="386.3" r="2.25"/><circle cx="396.1" cy="385.6" r="2.25"/><circle cx="399.0" cy="382.8" r="2.25"/><circle cx="405.2" cy="374.6" r="2.25"/><circle cx="410.3" cy="371.1" r="2.25"/><circle cx="410.5" cy="372.5" r="2.25"/><circle cx="402.9" cy="379.1" r="2.25"/><circle cx="408.6" cy="380.3" r="2.25"/><circle cx="402.8" cy="381.8" r="2.25"/><circle cx="408.6" cy="383.2" r="2.25"/><circle cx="408.2" cy="376.4" r="2.25"/><circle cx="406.0" cy="372.1" r="2.25"/><circle cx="408.3" cy="388.7" r="2.25"/><circle cx="401.3" cy="385.0" r="2.25"/><circle cx="398.7" cy="386.2" r="2.25"/><circle cx="404.4" cy="387.6" r="2.25"/><circle cx="396.9" cy="388.5" r="2.25"/><circle cx="406.0" cy="383.8" r="2.25"/><circle cx="407.0" cy="373.4" r="2.25"/><circle cx="410.6" cy="370.0" r="2.25"/><circle cx="408.0" cy="374.3" r="2.25"/><circle cx="406.9" cy="382.4" r="2.25"/><circle cx="403.6" cy="380.1" r="2.25"/><circle cx="406.6" cy="387.7" r="2.25"/><circle cx="409.2" cy="370.5" r="2.25"/><circle cx="405.2" cy="384.6" r="2.25"/><circle cx="470.8" cy="320.6" r="2.25"/><circle cx="473.1" cy="302.4" r="2.25"/><circle cx="480.8" cy="315.8" r="2.25"/><circle cx="464.7" cy="307.0" r="2.25"/><circle cx="474.6" cy="314.7" r="2.25"/><circle cx="492.6" cy="310.7" r="2.25"/><circle cx="469.3" cy="317.9" r="2.25"/><circle cx="460.2" cy="313.6" r="2.25"/><circle cx="475.8" cy="309.6" r="2.25"/><circle cx="484.4" cy="310.2" r="2.25"/><circle cx="488.6" cy="317.9" r="2.25"/><circle cx="477.5" cy="319.1" r="2.25"/><circle cx="484.2" cy="316.4" r="2.25"/><circle cx="467.3" cy="317.9" r="2.25"/><circle cx="492.8" cy="316.5" r="2.25"/><circle cx="462.7" cy="300.0" r="2.25"/><circle cx="457.4" cy="308.8" r="2.25"/><circle cx="483.0" cy="310.4" r="2.25"/><circle cx="458.8" cy="300.5" r="2.25"/><circle cx="467.8" cy="308.5" r="2.25"/><circle cx="492.4" cy="319.8" r="2.25"/><circle cx="486.5" cy="305.3" r="2.25"/><circle cx="468.0" cy="301.4" r="2.25"/><circle cx="466.3" cy="311.9" r="2.25"/><circle cx="479.1" cy="323.2" r="2.25"/><circle cx="470.7" cy="315.2" r="2.25"/><circle cx="464.4" cy="302.8" r="2.25"/><circle cx="472.4" cy="304.3" r="2.25"/><circle cx="490.7" cy="308.1" r="2.25"/><circle cx="484.7" cy="319.4" r="2.25"/><circle cx="493.5" cy="304.3" r="2.25"/><circle cx="489.0" cy="319.5" r="2.25"/><circle cx="462.0" cy="313.0" r="2.25"/><circle cx="476.8" cy="304.2" r="2.25"/><circle cx="467.1" cy="305.5" r="2.25"/><circle cx="487.2" cy="319.6" r="2.25"/><circle cx="461.5" cy="305.6" r="2.25"/><circle cx="488.1" cy="319.0" r="2.25"/><circle cx="474.0" cy="319.3" r="2.25"/><circle cx="469.9" cy="320.0" r="2.25"/><circle cx="464.6" cy="304.7" r="2.25"/><circle cx="465.0" cy="308.9" r="2.25"/><circle cx="467.6" cy="307.0" r="2.25"/><circle cx="489.2" cy="311.8" r="2.25"/><circle cx="470.5" cy="309.9" r="2.25"/><circle cx="479.4" cy="312.5" r="2.25"/><circle cx="482.1" cy="312.0" r="2.25"/><circle cx="469.5" cy="312.9" r="2.25"/><circle cx="475.6" cy="322.3" r="2.25"/><circle cx="485.5" cy="307.9" r="2.25"/><circle cx="490.9" cy="314.0" r="2.25"/><circle cx="442.1" cy="326.9" r="2.25"/><circle cx="446.0" cy="328.8" r="2.25"/><circle cx="449.8" cy="330.7" r="2.25"/><circle cx="453.7" cy="333.7" r="2.25"/><circle cx="456.6" cy="324.9" r="2.25"/><circle cx="460.5" cy="323.0" r="2.25"/><circle cx="464.4" cy="321.0" r="2.25"/><circle cx="452.7" cy="330.7" r="2.25"/><circle cx="412.9" cy="357.0" r="2.25"/><circle cx="416.8" cy="355.0" r="2.25"/><circle cx="420.7" cy="357.9" r="2.25"/><circle cx="414.9" cy="361.8" r="2.25"/><circle cx="412.0" cy="365.7" r="2.25"/><circle cx="418.8" cy="363.8" r="2.25"/><circle cx="430.0" cy="340.7" r="2.25"/><circle cx="440.4" cy="341.9" r="2.25"/><circle cx="446.1" cy="344.9" r="2.25"/><circle cx="441.4" cy="345.5" r="2.25"/><circle cx="440.1" cy="336.6" r="2.25"/><circle cx="435.2" cy="341.4" r="2.25"/><circle cx="441.9" cy="337.7" r="2.25"/><circle cx="438.6" cy="345.2" r="2.25"/><circle cx="430.2" cy="343.1" r="2.25"/><circle cx="435.4" cy="345.9" r="2.25"/><circle cx="432.8" cy="336.5" r="2.25"/><circle cx="427.9" cy="343.5" r="2.25"/><circle cx="432.8" cy="343.9" r="2.25"/><circle cx="441.7" cy="340.5" r="2.25"/><circle cx="443.7" cy="347.3" r="2.25"/><circle cx="436.4" cy="340.3" r="2.25"/><circle cx="426.0" cy="338.9" r="2.25"/><circle cx="436.4" cy="339.2" r="2.25"/><circle cx="430.9" cy="337.3" r="2.25"/><circle cx="427.4" cy="338.0" r="2.25"/><circle cx="435.5" cy="336.9" r="2.25"/><circle cx="443.2" cy="340.3" r="2.25"/><circle cx="431.1" cy="339.3" r="2.25"/><circle cx="427.0" cy="341.7" r="2.25"/><circle cx="437.1" cy="343.8" r="2.25"/><circle cx="421.5" cy="384.4" r="2.25"/><circle cx="431.2" cy="375.5" r="2.25"/><circle cx="427.9" cy="380.6" r="2.25"/><circle cx="439.2" cy="376.1" r="2.25"/><circle cx="425.3" cy="383.5" r="2.25"/><circle cx="436.7" cy="380.3" r="2.25"/><circle cx="435.1" cy="381.1" r="2.25"/><circle cx="433.1" cy="376.9" r="2.25"/><circle cx="427.4" cy="385.7" r="2.25"/><circle cx="431.7" cy="382.5" r="2.25"/><circle cx="426.3" cy="380.0" r="2.25"/><circle cx="431.7" cy="372.1" r="2.25"/><circle cx="427.5" cy="378.2" r="2.25"/><circle cx="436.5" cy="378.2" r="2.25"/><circle cx="438.7" cy="379.8" r="2.25"/><circle cx="429.8" cy="380.9" r="2.25"/><circle cx="429.7" cy="378.3" r="2.25"/><circle cx="434.0" cy="379.5" r="2.25"/><circle cx="433.4" cy="375.4" r="2.25"/><circle cx="413.9" cy="358.7" r="2.25"/><circle cx="421.7" cy="354.5" r="2.25"/><circle cx="421.3" cy="354.2" r="2.25"/><circle cx="420.7" cy="356.8" r="2.25"/><circle cx="417.5" cy="353.9" r="2.25"/><circle cx="414.9" cy="361.7" r="2.25"/><circle cx="423.3" cy="348.0" r="2.25"/><circle cx="419.3" cy="352.2" r="2.25"/><circle cx="422.4" cy="351.8" r="2.25"/><circle cx="416.4" cy="357.2" r="2.25"/></g>
<g stroke="#0776C4"><circle cx="351.9" cy="411.3" r="2.25"/><circle cx="354.8" cy="409.4" r="2.25"/><circle cx="352.8" cy="414.2" r="2.25"/><circle cx="350.9" cy="418.1" r="2.25"/><circle cx="354.8" cy="420.1" r="2.25"/><circle cx="356.7" cy="424.0" r="2.25"/><circle cx="360.6" cy="423.0" r="2.25"/><circle cx="357.7" cy="416.2" r="2.25"/><circle cx="361.6" cy="413.3" r="2.25"/><circle cx="364.5" cy="409.4" r="2.25"/><circle cx="366.4" cy="407.4" r="2.25"/><circle cx="363.5" cy="416.2" r="2.25"/><circle cx="353.8" cy="417.2" r="2.25"/><circle cx="355.7" cy="412.3" r="2.25"/><circle cx="358.7" cy="420.1" r="2.25"/><circle cx="371.3" cy="407.4" r="2.25"/><circle cx="376.1" cy="403.6" r="2.25"/><circle cx="379.0" cy="405.5" r="2.25"/><circle cx="381.0" cy="408.4" r="2.25"/><circle cx="383.0" cy="399.5" r="2.25"/><circle cx="382.2" cy="394.5" r="2.25"/><circle cx="389.2" cy="397.9" r="2.25"/><circle cx="398.0" cy="395.7" r="2.25"/><circle cx="395.0" cy="389.9" r="2.25"/><circle cx="390.5" cy="402.2" r="2.25"/><circle cx="399.4" cy="389.3" r="2.25"/><circle cx="392.8" cy="397.8" r="2.25"/><circle cx="382.6" cy="392.7" r="2.25"/><circle cx="394.5" cy="393.6" r="2.25"/><circle cx="392.2" cy="395.8" r="2.25"/><circle cx="390.9" cy="389.3" r="2.25"/><circle cx="390.5" cy="390.9" r="2.25"/><circle cx="396.8" cy="392.0" r="2.25"/><circle cx="385.6" cy="398.1" r="2.25"/><circle cx="395.5" cy="394.9" r="2.25"/><circle cx="385.7" cy="395.7" r="2.25"/><circle cx="387.1" cy="400.7" r="2.25"/><circle cx="391.3" cy="400.6" r="2.25"/><circle cx="397.0" cy="396.4" r="2.25"/><circle cx="388.3" cy="393.0" r="2.25"/><circle cx="384.4" cy="400.2" r="2.25"/><circle cx="390.9" cy="397.1" r="2.25"/><circle cx="381.4" cy="397.1" r="2.25"/><circle cx="383.7" cy="397.1" r="2.25"/><circle cx="392.7" cy="393.6" r="2.25"/><circle cx="389.5" cy="400.7" r="2.25"/><circle cx="386.0" cy="392.5" r="2.25"/><circle cx="389.9" cy="392.3" r="2.25"/><circle cx="380.5" cy="395.0" r="2.25"/><circle cx="396.3" cy="393.3" r="2.25"/><circle cx="387.7" cy="394.4" r="2.25"/><circle cx="382.4" cy="397.2" r="2.25"/><circle cx="391.2" cy="388.7" r="2.25"/><circle cx="387.7" cy="386.5" r="2.25"/><circle cx="391.6" cy="387.1" r="2.25"/><circle cx="389.9" cy="384.5" r="2.25"/><circle cx="391.5" cy="386.4" r="2.25"/><circle cx="389.7" cy="385.5" r="2.25"/><circle cx="392.1" cy="385.4" r="2.25"/><circle cx="425.9" cy="358.6" r="2.25"/><circle cx="429.7" cy="354.8" r="2.25"/><circle cx="433.2" cy="358.2" r="2.25"/><circle cx="429.1" cy="359.2" r="2.25"/><circle cx="438.2" cy="356.6" r="2.25"/><circle cx="433.0" cy="355.0" r="2.25"/><circle cx="431.7" cy="359.6" r="2.25"/><circle cx="429.8" cy="360.9" r="2.25"/><circle cx="433.4" cy="356.0" r="2.25"/><circle cx="428.8" cy="360.3" r="2.25"/><circle cx="426.6" cy="360.7" r="2.25"/><circle cx="428.9" cy="355.7" r="2.25"/><circle cx="423.2" cy="356.4" r="2.25"/><circle cx="424.4" cy="358.8" r="2.25"/><circle cx="440.0" cy="356.2" r="2.25"/><circle cx="424.8" cy="358.4" r="2.25"/><circle cx="436.1" cy="357.4" r="2.25"/><circle cx="430.1" cy="359.4" r="2.25"/><circle cx="424.5" cy="360.9" r="2.25"/><circle cx="425.7" cy="359.2" r="2.25"/><circle cx="413.5" cy="372.7" r="2.25"/><circle cx="421.7" cy="366.8" r="2.25"/><circle cx="417.3" cy="372.5" r="2.25"/><circle cx="421.1" cy="373.4" r="2.25"/><circle cx="413.5" cy="375.7" r="2.25"/><circle cx="420.8" cy="370.3" r="2.25"/><circle cx="420.5" cy="374.4" r="2.25"/><circle cx="417.7" cy="366.1" r="2.25"/><circle cx="416.3" cy="375.7" r="2.25"/><circle cx="420.6" cy="367.1" r="2.25"/><circle cx="413.2" cy="367.4" r="2.25"/><circle cx="415.3" cy="379.6" r="2.25"/><circle cx="415.4" cy="374.2" r="2.25"/><circle cx="418.9" cy="377.6" r="2.25"/><circle cx="415.6" cy="368.1" r="2.25"/><circle cx="415.4" cy="370.7" r="2.25"/><circle cx="423.1" cy="365.4" r="2.25"/><circle cx="416.2" cy="372.1" r="2.25"/><circle cx="419.8" cy="372.7" r="2.25"/><circle cx="412.2" cy="375.4" r="2.25"/><circle cx="414.4" cy="377.1" r="2.25"/><circle cx="415.3" cy="377.0" r="2.25"/></g></g>
<rect x="315.0" y="289.3" width="194.5" height="198.4" fill="none" stroke="#333333" stroke-width="1.2"/>
<path d="M334.4 487.7v-2.4M334.4 289.3v2.4M315.0 467.9h2.4M509.5 467.9h-2.4M373.4 487.7v-2.4M373.4 289.3v2.4M315.0 428.2h2.4M509.5 428.2h-2.4M412.2 487.7v-2.4M412.2 289.3v2.4M315.0 388.5h2.4M509.5 388.5h-2.4M451.1 487.7v-2.4M451.1 289.3v2.4M315.0 348.8h2.4M509.5 348.8h-2.4M490.0 487.7v-2.4M490.0 289.3v2.4M315.0 309.1h2.4M509.5 309.1h-2.4" stroke="#333333" stroke-width="1.1" fill="none"/>
<text x="334.4" y="514.4" text-anchor="middle" font-size="19">2</text>
<text x="308.2" y="474.8" text-anchor="end" font-size="19">2</text>
<text x="373.4" y="514.4" text-anchor="middle" font-size="19">4</text>
<text x="308.2" y="435.1" text-anchor="end" font-size="19">4</text>
<text x="412.2" y="514.4" text-anchor="middle" font-size="19">6</text>
<text x="308.2" y="395.4" text-anchor="end" font-size="19">6</text>
<text x="451.1" y="514.4" text-anchor="middle" font-size="19">8</text>
<text x="308.2" y="355.7" text-anchor="end" font-size="19">8</text>
<text x="490.0" y="514.4" text-anchor="middle" font-size="19">10</text>
<text x="308.2" y="316.0" text-anchor="end" font-size="19">10</text>
<text x="334.7" y="316.3" font-size="19.7">(d)</text>
<text x="412.3" y="454.2" font-size="16">ME: 0.75 m</text>
<text x="412.3" y="474.1" font-size="16">Corr: 0.94</text></g>
<text x="155.4" y="541.9" text-anchor="middle" font-size="21.2">Altimeter SWH (m)</text>
<text x="412.0" y="541.9" text-anchor="middle" font-size="21.2">Altimeter SWH (m)</text>
<text transform="translate(20.4 136.5) rotate(-90)" text-anchor="middle" font-size="21.4">Model SWH (m)</text>
<text transform="translate(20.4 388.4) rotate(-90)" text-anchor="middle" font-size="21.4">Model SWH (m)</text>
</svg></body></html>
